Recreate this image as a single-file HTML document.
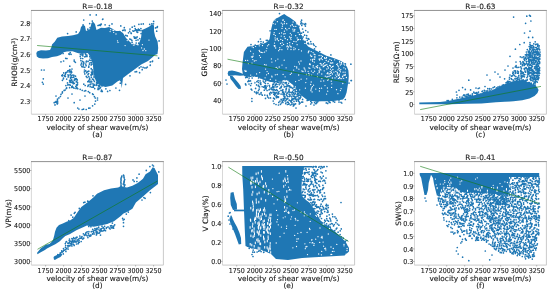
<!DOCTYPE html>
<html><head><meta charset="utf-8"><style>html,body{margin:0;padding:0;background:#fff;overflow:hidden}svg{display:block;filter:blur(0.3px)}text{stroke:#1a1a1a;stroke-width:0.12px}</style></head><body>
<svg width="550" height="294" viewBox="0 0 550 294" font-family='"DejaVu Sans", "Liberation Sans", sans-serif' fill="#1a1a1a">
<rect width="550" height="294" fill="#fff"/>
<path d="M135.2 28.5h0M123.2 30.2h0M124.9 29.9h0M136.2 30.0h0M136.8 29.8h0M138.4 29.0h0M139.3 29.9h0M119.5 31.5h0M122.7 30.5h0M125.1 30.6h0M129.7 31.3h0M132.9 30.8h0M133.4 31.2h0M134.9 30.6h0M136.8 30.3h0M138.0 30.4h0M141.0 30.6h0M119.9 31.9h0M128.5 32.8h0M131.0 32.9h0M136.8 31.8h0M131.3 33.5h0M141.1 33.6h0M125.8 35.4h0M127.3 35.9h0M134.0 36.8h0M135.2 37.3h0M137.1 36.9h0M129.7 39.0h0M134.6 38.2h0M135.5 38.1h0M136.5 37.8h0M139.7 38.5h0M130.8 39.3h0M131.9 40.4h0M136.1 40.3h0M138.0 39.9h0M132.1 42.4h0M136.2 43.0h0M138.7 43.2h0M133.6 44.6h0M135.5 45.2h0M136.2 45.6h0M137.0 45.5h0M88.5 52.5h0M85.5 53.9h0M89.5 53.5h0M90.0 53.5h0M91.4 54.1h0M80.4 54.7h0M81.9 54.8h0M82.9 54.6h0M85.7 54.4h0M86.9 55.0h0M91.2 54.3h0M80.2 56.5h0M82.9 55.9h0M84.8 56.8h0M85.8 56.3h0M87.0 56.4h0M89.8 56.3h0M93.5 56.8h0M80.7 58.5h0M82.7 58.5h0M90.3 57.9h0M92.0 58.5h0M92.9 58.3h0M89.6 60.1h0M94.0 59.7h0M80.9 60.6h0M82.5 61.4h0M86.5 61.1h0M88.1 61.4h0M91.1 60.4h0M81.5 63.2h0M83.7 62.2h0M86.2 61.9h0M90.0 62.8h0M91.5 62.6h0M81.7 63.3h0M83.3 64.6h0M83.8 63.6h0M85.8 64.1h0M89.4 64.1h0M91.9 64.2h0M96.4 64.0h0M81.0 64.9h0M83.3 65.1h0M86.1 65.7h0M88.9 66.1h0M91.2 64.9h0M94.2 66.1h0M81.8 66.6h0M83.2 66.9h0M84.8 67.3h0M88.7 67.2h0M91.2 68.7h0M94.7 68.6h0M84.5 70.0h0M92.2 69.9h0M84.4 71.9h0M85.8 70.9h0M87.6 71.6h0M88.8 71.2h0M91.4 72.0h0M92.9 71.4h0M86.7 72.7h0M88.6 73.5h0M91.8 72.9h0M92.9 72.9h0M94.8 73.3h0M84.8 73.9h0M88.0 74.7h0M91.1 74.5h0M92.2 74.4h0M92.9 74.4h0M86.3 76.4h0M88.8 76.7h0M91.1 75.5h0M94.1 76.2h0M96.9 75.3h0M87.1 77.4h0M91.4 77.3h0M94.1 77.5h0M98.1 77.3h0M89.6 78.4h0M89.8 79.3h0M92.5 79.2h0M93.2 79.6h0M95.8 78.4h0M88.9 80.4h0M91.0 81.1h0M93.7 80.1h0M96.6 80.0h0M98.5 81.2h0M98.8 80.1h0M87.8 81.7h0M89.3 81.8h0M90.5 82.0h0M91.8 81.8h0M94.4 81.4h0M96.6 82.4h0M97.3 82.2h0M99.5 81.7h0M90.4 84.1h0M92.1 83.8h0M93.7 84.1h0M96.4 84.0h0M97.9 83.4h0M100.5 84.1h0M90.0 84.7h0M93.4 85.7h0M94.5 85.1h0M96.2 85.3h0M98.1 85.3h0M99.5 85.7h0M101.9 84.4h0M91.9 87.2h0M93.4 87.2h0M98.6 86.0h0M99.2 86.5h0M102.0 86.0h0M94.7 88.6h0M99.1 88.3h0M100.5 87.4h0M98.6 89.4h0M158.6 58.1h0M152.6 61.1h0M150.3 61.9h0M152.2 61.6h0M150.2 65.3h0M150.3 65.1h0M141.0 66.8h0M147.3 67.0h0M139.3 67.9h0M143.1 67.4h0M144.9 67.9h0M146.5 67.8h0M142.2 69.7h0M136.6 71.7h0M135.1 71.8h0M139.6 72.7h0M130.0 75.8h0M120.6 80.6h0M120.3 83.2h0M125.6 84.4h0M98.1 88.1h0M115.9 88.0h0M98.0 89.4h0M99.9 88.3h0M105.9 88.8h0M101.5 90.2h0M109.9 90.5h0M119.5 90.3h0M101.2 91.3h0M102.3 91.4h0M107.6 91.4h0M70.2 52.7h0M63.1 53.4h0M68.9 53.9h0M69.4 54.3h0M71.1 54.3h0M65.7 58.3h0M67.0 58.5h0M80.8 58.3h0M74.3 61.3h0M75.4 62.3h0" stroke="#1f77b4" stroke-width="1.7" stroke-linecap="round" fill="none"/><path d="M36.3,53.0 37.5,51.2 41.0,50.3 46.0,50.5 50.0,50.0 51.5,47.0 52.0,44.5 54.9,41.4 57.3,37.7 62.0,36.5 68.0,36.0 73.0,35.3 78.0,34.0 80.0,31.0 81.0,27.0 83.0,25.0 85.0,26.0 86.0,31.0 90.0,29.0 91.5,23.0 93.0,21.8 95.0,24.0 96.5,30.0 101.0,27.7 105.0,27.9 109.0,27.0 112.0,28.5 116.0,31.0 120.0,31.0 123.0,33.0 126.0,38.0 130.0,42.0 135.0,46.0 138.0,46.0 141.0,38.0 142.0,30.0 145.4,28.5 149.0,26.7 152.0,24.2 154.0,25.5 154.0,31.0 155.2,36.5 157.6,41.4 158.2,48.0 157.5,54.0 154.8,55.0 153.1,56.8 148.0,61.0 141.2,64.4 134.4,69.5 127.6,74.6 123.0,78.0 121.7,88.2 120.8,79.7 117.4,81.4 112.3,85.5 105.5,87.0 100.0,85.5 96.0,81.0 93.5,73.0 93.0,65.0 91.0,58.0 88.0,53.0 84.5,53.5 82.0,54.0 77.5,53.0 72.5,51.2 67.0,51.5 63.5,52.2 61.0,54.7 57.0,56.2 52.0,57.0 48.0,58.3 43.0,58.6 39.0,58.0 36.8,56.5Z" fill="#1f77b4"/><path d="M127.2 40.6h0M149.0 40.1h0M117.5 40.8h0M118.0 42.3h0M131.8 43.6h0M133.4 45.1h0M142.4 44.7h0M125.1 45.6h0M141.6 47.9h0M144.3 49.0h0M143.0 50.5h0M145.8 50.7h0M110.7 29.7h0M112.9 30.2h0M113.8 30.4h0M110.1 31.6h0M113.7 32.3h0M116.0 34.0h0" stroke="#fff" stroke-width="1.3" stroke-linecap="round" fill="none"/><path d="M92.3 21.1h0M153.6 21.4h0M89.7 23.6h0M83.1 24.9h0M99.2 25.1h0M100.4 24.7h0M101.3 24.1h0M105.1 24.8h0M112.0 23.9h0M138.9 24.3h0M141.2 24.1h0M143.3 23.9h0M149.7 24.3h0M151.8 23.8h0M153.5 23.8h0M98.0 25.5h0M100.5 25.4h0M120.8 25.9h0M134.5 26.2h0M157.4 26.7h0M90.1 27.7h0M124.3 27.7h0M132.2 27.2h0M155.5 27.9h0M157.1 27.4h0M87.8 29.2h0M130.0 29.1h0M135.7 29.6h0M140.9 28.6h0M139.3 30.3h0M156.7 31.2h0M76.2 31.9h0M137.7 32.3h0M67.6 33.6h0M159.1 40.9h0" stroke="#1f77b4" stroke-width="1.7" stroke-linecap="round" fill="none"/><path d="M67.8 70.8h0M68.6 70.5h0M71.3 71.0h0M65.8 72.5h0M66.9 72.2h0M69.2 72.0h0M71.3 71.5h0M71.7 72.2h0M63.7 72.9h0M65.7 73.2h0M71.3 72.8h0M61.8 75.5h0M62.6 74.9h0M64.4 75.7h0M65.4 74.3h0M68.0 74.8h0M68.5 75.7h0M70.2 74.3h0M71.6 75.3h0M72.9 75.0h0M62.3 75.9h0M64.6 76.1h0M65.4 76.4h0M68.2 77.0h0M68.4 76.1h0M73.7 77.2h0M63.5 78.0h0M63.4 78.8h0M66.7 79.1h0M71.7 79.8h0M62.4 80.3h0M69.6 80.4h0M70.4 81.4h0M67.5 82.9h0M69.7 82.0h0M70.6 82.3h0M72.7 82.8h0M73.3 82.6h0M69.1 84.6h0M65.9 85.6h0M67.8 84.9h0M70.3 85.2h0M73.9 75.4h0M70.5 77.2h0M71.5 77.2h0M75.5 76.2h0M70.6 78.6h0M72.1 77.4h0M75.2 78.5h0M76.4 78.6h0M71.8 80.2h0M74.5 79.1h0M75.6 79.7h0M77.3 79.9h0M71.1 80.5h0M72.9 81.6h0M74.3 80.3h0M76.8 81.7h0M71.6 82.4h0M72.6 82.2h0M76.2 81.8h0M77.6 82.8h0M73.4 83.7h0M74.3 83.3h0M77.5 84.6h0M72.3 86.2h0M76.4 84.9h0M77.0 85.5h0M71.8 86.6h0M72.9 87.2h0M75.8 86.5h0M76.9 87.7h0M69.9 69.6h0M69.9 71.2h0M70.4 71.9h0M70.3 75.0h0M83.8 84.2h0M76.9 84.5h0M85.2 85.5h0M88.3 85.2h0M87.9 86.3h0M90.2 86.7h0M55.5 101.8h0M56.4 101.7h0M57.6 101.2h0M54.2 102.7h0M56.5 102.6h0M57.7 102.9h0M55.0 104.9h0M57.3 104.0h0M66.7 87.9h0M66.3 88.4h0M65.2 90.0h0M64.1 90.4h0M62.4 91.9h0M62.3 93.0h0M61.0 94.4h0M60.4 96.5h0M58.9 97.9h0M57.5 99.0h0M57.5 99.6h0M56.2 101.3h0M55.5 102.1h0M69.6 87.7h0M71.8 87.5h0M74.0 88.2h0M76.0 88.4h0M77.7 88.7h0M80.2 89.3h0M82.2 90.3h0M84.4 91.0h0M85.7 90.7h0M88.3 91.6h0M89.7 92.7h0M92.6 93.9h0M93.3 94.5h0M94.4 96.6h0M95.3 98.0h0M95.5 101.1h0M94.8 104.1h0M92.6 105.8h0M90.0 108.0h0M88.8 108.2h0M86.2 109.5h0M83.6 109.1h0M82.2 109.5h0M78.9 109.0h0" stroke="#1f77b4" stroke-width="1.7" stroke-linecap="round" fill="none"/><path d="M41.5 70.0h0M44.1 70.0h0M43.3 78.8h0M42.4 82.3h0M43.3 84.1h0M61.0 61.8h0M63.6 61.0h0M74.2 60.0h0M69.8 66.2h0M72.0 69.0h0M74.2 102.7h0M77.7 108.0h0M90.1 14.9h0M96.3 14.9h0M102.9 19.1h0M83.7 20.0h0M102.6 19.3h0M109.4 25.6h0M97.5 98.0h0M97.5 100.0h0M56.0 96.0h0M68.0 98.0h0M72.0 94.0h0M80.0 100.0h0M85.0 96.0h0" stroke="#1f77b4" stroke-width="1.7" stroke-linecap="round" fill="none"/><line x1="37.1" y1="45.5" x2="157.5" y2="55.8" stroke="#107a10" stroke-width="0.6"/>
<path d="M31.4,114.2V10.45" stroke="#d4d4d4" stroke-width="0.9" fill="none"/>
<path d="M31.4,114.2H163.4V10.45" stroke="#c4c4c4" stroke-width="0.9" fill="none"/>
<path d="M31.0,10.45H163.8" stroke="#858585" stroke-width="0.9" fill="none"/>
<text x="97.4" y="8.9" font-size="7.35" text-anchor="middle">R=-0.18</text>
<text transform="translate(45.6,120.8) scale(0.925,1)" font-size="6.85" text-anchor="middle">1750</text>
<line x1="45.6" y1="114.2" x2="45.6" y2="115.6" stroke="#888" stroke-width="0.6"/>
<text transform="translate(63.6,120.8) scale(0.925,1)" font-size="6.85" text-anchor="middle">2000</text>
<line x1="63.6" y1="114.2" x2="63.6" y2="115.6" stroke="#888" stroke-width="0.6"/>
<text transform="translate(81.6,120.8) scale(0.925,1)" font-size="6.85" text-anchor="middle">2250</text>
<line x1="81.6" y1="114.2" x2="81.6" y2="115.6" stroke="#888" stroke-width="0.6"/>
<text transform="translate(99.6,120.8) scale(0.925,1)" font-size="6.85" text-anchor="middle">2500</text>
<line x1="99.6" y1="114.2" x2="99.6" y2="115.6" stroke="#888" stroke-width="0.6"/>
<text transform="translate(117.6,120.8) scale(0.925,1)" font-size="6.85" text-anchor="middle">2750</text>
<line x1="117.6" y1="114.2" x2="117.6" y2="115.6" stroke="#888" stroke-width="0.6"/>
<text transform="translate(135.6,120.8) scale(0.925,1)" font-size="6.85" text-anchor="middle">3000</text>
<line x1="135.6" y1="114.2" x2="135.6" y2="115.6" stroke="#888" stroke-width="0.6"/>
<text transform="translate(153.6,120.8) scale(0.925,1)" font-size="6.85" text-anchor="middle">3250</text>
<line x1="153.6" y1="114.2" x2="153.6" y2="115.6" stroke="#888" stroke-width="0.6"/>
<text x="97.4" y="129.6" font-size="7.35" text-anchor="middle">velocity of shear wave(m/s)</text>
<text x="97.4" y="137.3" font-size="7.35" text-anchor="middle">(a)</text>
<text transform="translate(30.2,25.6) scale(0.925,1)" font-size="6.85" text-anchor="end">2.8</text>
<line x1="29.8" y1="23.0" x2="31.4" y2="23.0" stroke="#888" stroke-width="0.6"/>
<text transform="translate(30.2,41.2) scale(0.925,1)" font-size="6.85" text-anchor="end">2.7</text>
<line x1="29.8" y1="38.6" x2="31.4" y2="38.6" stroke="#888" stroke-width="0.6"/>
<text transform="translate(30.2,56.9) scale(0.925,1)" font-size="6.85" text-anchor="end">2.6</text>
<line x1="29.8" y1="54.2" x2="31.4" y2="54.2" stroke="#888" stroke-width="0.6"/>
<text transform="translate(30.2,72.5) scale(0.925,1)" font-size="6.85" text-anchor="end">2.5</text>
<line x1="29.8" y1="69.8" x2="31.4" y2="69.8" stroke="#888" stroke-width="0.6"/>
<text transform="translate(30.2,88.1) scale(0.925,1)" font-size="6.85" text-anchor="end">2.4</text>
<line x1="29.8" y1="85.4" x2="31.4" y2="85.4" stroke="#888" stroke-width="0.6"/>
<text transform="translate(30.2,103.7) scale(0.925,1)" font-size="6.85" text-anchor="end">2.3</text>
<line x1="29.8" y1="101.0" x2="31.4" y2="101.0" stroke="#888" stroke-width="0.6"/>
<text transform="translate(17.0,62.3) rotate(-90)" font-size="7.35" text-anchor="middle">RHOB(g/cm<tspan dy="-2.5" font-size="5">3</tspan><tspan dy="2.5">)</tspan></text>
<path d="M246.7 76.7h0M252.1 76.6h0M256.5 76.2h0M245.7 77.6h0M247.2 77.3h0M247.3 77.0h0M249.1 78.1h0M252.2 77.9h0M258.6 77.9h0M260.6 77.7h0M263.9 78.6h0M265.6 79.5h0M285.0 79.2h0M248.7 80.4h0M249.2 81.1h0M250.5 80.9h0M258.1 80.6h0M260.1 80.9h0M263.2 81.0h0M265.6 81.1h0M270.3 81.1h0M274.3 80.4h0M275.8 80.3h0M247.9 81.6h0M254.8 82.7h0M256.9 81.7h0M258.6 82.5h0M264.1 82.3h0M277.6 82.6h0M281.1 82.6h0M285.1 82.6h0M286.4 82.7h0M245.5 83.9h0M251.4 83.5h0M260.0 84.2h0M260.8 82.8h0M265.4 83.3h0M268.0 83.6h0M273.6 84.2h0M275.9 84.1h0M277.7 84.2h0M282.4 83.9h0M245.9 84.9h0M250.6 85.5h0M256.6 84.9h0M258.7 85.1h0M260.9 84.4h0M265.4 85.6h0M269.1 85.3h0M272.9 84.4h0M276.3 84.4h0M279.4 84.7h0M284.1 84.4h0M288.5 85.7h0M258.4 85.9h0M259.5 86.9h0M262.2 86.6h0M263.7 87.2h0M264.6 86.1h0M265.4 87.1h0M267.1 86.0h0M269.7 86.1h0M269.8 86.8h0M272.5 87.2h0M276.1 87.0h0M281.0 86.9h0M281.8 86.1h0M284.7 86.5h0M286.7 86.7h0M290.9 87.2h0M255.6 88.4h0M265.2 88.2h0M266.2 87.7h0M272.9 87.6h0M281.2 87.6h0M286.4 88.7h0M291.9 87.7h0M251.2 89.2h0M251.9 90.0h0M259.2 89.1h0M264.3 90.2h0M266.0 88.9h0M269.0 89.8h0M270.0 89.1h0M271.8 89.5h0M274.6 89.6h0M276.7 89.7h0M292.8 88.8h0M295.2 89.9h0M258.5 90.6h0M267.1 90.5h0M277.3 90.6h0M279.0 91.6h0M281.0 90.4h0M293.5 90.3h0M295.8 91.6h0M297.4 91.7h0M254.6 91.8h0M256.2 92.7h0M256.7 92.0h0M258.0 92.8h0M261.1 92.6h0M270.7 92.3h0M271.6 93.0h0M274.8 92.8h0M276.2 92.7h0M278.0 92.8h0M282.6 92.6h0M283.8 92.0h0M285.8 91.9h0M287.4 93.0h0M288.4 92.0h0M289.9 92.2h0M291.4 92.8h0M292.5 92.4h0M297.4 91.8h0M256.5 93.6h0M259.3 94.3h0M261.0 93.9h0M269.7 93.3h0M269.9 94.7h0M273.8 94.2h0M278.9 93.6h0M283.0 94.4h0M284.2 93.7h0M286.6 93.8h0M293.3 93.6h0M295.5 93.7h0M297.9 93.5h0M298.8 93.4h0M262.3 95.2h0M264.8 95.1h0M267.3 95.3h0M274.7 95.3h0M276.6 95.8h0M283.9 96.1h0M290.0 94.9h0M292.1 94.8h0M293.5 96.2h0M298.8 95.0h0M300.6 96.1h0M267.6 96.9h0M278.3 97.3h0M284.1 96.6h0M284.9 96.6h0M287.6 96.5h0M289.3 96.4h0M295.7 97.3h0M300.8 97.1h0M265.5 98.4h0M268.7 98.0h0M270.5 97.9h0M273.6 98.2h0M274.5 98.9h0M284.7 98.3h0M287.0 99.1h0M292.9 98.5h0M294.6 98.2h0M295.5 98.9h0M282.0 100.1h0M283.5 100.4h0M286.5 99.6h0M289.2 100.2h0M291.8 100.3h0M298.3 99.9h0M273.2 101.0h0M280.0 101.1h0M294.0 101.4h0M296.5 101.2h0M298.5 101.1h0M278.8 102.4h0M281.3 103.0h0M282.9 102.5h0M285.7 103.6h0M288.3 102.3h0M292.0 102.7h0M287.4 104.5h0M288.6 104.1h0M290.4 105.0h0M291.9 104.3h0M294.5 104.4h0M293.3 106.0h0M280.9 80.7h0M275.6 81.4h0M277.6 81.7h0M281.6 80.9h0M274.4 82.6h0M277.1 82.9h0M278.7 82.7h0M279.9 83.7h0M288.5 83.3h0M275.6 84.6h0M282.7 84.0h0M283.7 84.9h0M285.7 84.1h0M286.4 84.0h0M287.4 83.8h0M272.8 86.2h0M275.2 85.5h0M277.4 86.6h0M285.1 86.7h0M286.7 86.1h0M287.5 85.9h0M289.7 85.9h0M271.4 88.0h0M273.7 87.5h0M274.0 86.9h0M280.9 87.2h0M284.3 86.9h0M289.3 86.8h0M290.6 87.4h0M272.1 89.6h0M273.4 89.4h0M279.8 88.3h0M282.9 89.5h0M286.1 88.9h0M289.1 89.2h0M292.7 89.1h0M294.1 89.6h0M295.1 89.7h0M273.2 90.1h0M275.3 90.3h0M277.3 90.7h0M282.6 90.7h0M286.0 90.0h0M289.1 90.4h0M273.1 92.1h0M274.2 92.3h0M282.9 92.0h0M288.6 91.7h0M292.4 91.7h0M297.6 91.8h0M275.4 93.8h0M277.5 94.0h0M278.5 93.9h0M281.1 94.1h0M283.7 93.0h0M289.2 94.2h0M293.9 92.8h0M298.3 93.6h0M283.9 94.3h0M284.7 94.5h0M286.7 95.4h0M290.0 95.3h0M294.4 94.6h0M297.1 94.5h0M297.9 94.8h0M299.4 95.1h0M276.1 96.7h0M277.6 96.9h0M278.5 96.9h0M289.9 96.2h0M291.7 96.8h0M295.0 96.5h0M296.9 96.4h0M298.1 96.0h0M276.6 97.7h0M283.2 98.5h0M285.4 98.0h0M287.1 98.7h0M287.8 98.6h0M293.4 98.6h0M299.0 97.5h0M300.1 98.4h0M281.1 99.3h0M283.9 99.4h0M286.2 100.0h0M291.7 99.1h0M292.6 99.7h0M294.0 98.8h0M296.1 99.7h0M297.1 99.0h0M298.8 99.2h0M302.6 99.4h0M282.3 101.6h0M285.2 101.0h0M290.5 100.9h0M298.2 100.3h0M285.8 103.2h0M287.3 102.1h0M291.1 101.9h0M299.3 102.0h0M289.1 103.8h0M293.6 104.1h0M295.6 103.8h0M299.3 103.9h0M293.8 105.6h0M338.5 98.7h0M308.1 100.2h0M317.7 99.7h0M323.3 99.8h0M325.3 99.5h0M326.6 100.2h0M329.1 99.8h0M331.3 98.8h0M333.5 99.8h0M335.0 99.6h0M336.6 98.9h0M339.0 100.1h0M307.2 100.4h0M310.8 101.4h0M315.6 100.6h0M317.9 101.6h0M328.7 100.9h0M333.2 101.4h0M300.1 103.1h0M301.7 102.1h0M311.8 102.7h0M314.6 102.7h0M316.8 102.8h0M326.3 102.9h0M330.1 102.6h0M341.0 102.3h0M341.8 103.0h0M310.7 104.0h0M315.9 103.7h0M327.7 103.4h0M266.3 40.3h0M267.5 40.4h0M263.3 42.1h0M269.4 41.9h0M270.5 42.7h0M260.9 43.5h0M265.1 44.3h0M266.2 44.2h0M261.9 45.7h0M268.7 45.5h0M263.6 46.6h0M264.3 46.7h0M301.0 21.8h0M301.6 22.8h0M305.2 23.5h0M300.8 23.8h0M303.0 23.8h0M304.7 24.5h0M305.7 23.9h0M301.8 25.4h0M305.4 26.1h0M302.6 29.0h0M305.7 30.5h0M303.3 32.2h0M307.9 32.0h0M304.6 35.2h0M306.7 35.7h0M303.1 36.9h0M306.4 38.1h0M308.1 38.5h0M308.9 39.2h0M305.0 41.3h0M307.3 40.3h0M310.7 41.6h0M308.2 43.2h0M307.7 43.4h0M308.9 44.0h0M311.1 43.9h0M313.3 43.9h0M314.1 45.3h0M315.8 46.6h0" stroke="#1f77b4" stroke-width="1.7" stroke-linecap="round" fill="none"/><path d="M242.5,63.0 243.9,52.0 247.5,46.8 252.0,46.0 256.7,45.0 260.0,44.5 264.0,43.5 267.0,42.0 269.5,39.2 270.5,33.0 271.4,28.2 273.2,21.0 276.0,18.5 278.7,17.2 281.5,15.5 284.2,14.0 287.0,16.0 289.7,17.5 292.5,19.5 295.2,21.5 298.9,26.5 300.5,32.0 302.6,37.4 305.0,42.5 308.1,46.5 312.0,48.5 315.4,50.2 320.0,52.5 326.4,55.7 332.0,57.5 337.4,59.4 341.0,61.0 344.8,63.5 347.0,67.0 348.4,70.4 348.8,76.0 348.4,81.4 347.5,87.0 346.6,92.4 345.0,97.0 343.0,99.5 337.0,100.5 330.0,101.2 322.0,101.2 315.4,101.4 308.0,100.5 302.0,96.0 298.0,91.9 292.8,84.8 285.7,79.5 280.4,81.2 274.0,82.5 268.0,81.2 262.7,79.5 257.4,76.8 250.0,77.0 245.0,76.5 243.0,75.0 242.0,69.0Z" fill="#1f77b4"/><path d="M275.0 20.1h0M282.7 20.2h0M283.3 20.0h0M273.1 20.9h0M277.4 21.7h0M284.5 21.7h0M293.1 22.0h0M273.2 23.6h0M281.3 23.1h0M284.3 23.7h0M286.7 23.7h0M275.3 24.1h0M282.6 24.2h0M292.2 24.4h0M292.3 25.1h0M296.4 23.8h0M282.4 26.2h0M290.5 25.8h0M293.8 26.4h0M295.8 26.4h0M274.9 29.4h0M276.4 29.3h0M282.0 28.4h0M285.6 28.5h0M289.1 28.4h0M292.9 29.2h0M294.8 29.5h0M284.4 31.2h0M286.9 29.8h0M293.2 31.0h0M294.6 30.9h0M274.2 32.7h0M298.1 32.6h0M279.4 33.3h0M281.6 32.9h0M283.7 33.9h0M285.1 33.7h0M290.3 33.3h0M273.9 34.4h0M275.4 35.6h0M291.4 34.9h0M295.7 35.7h0M299.4 34.5h0M301.3 34.4h0M281.2 36.1h0M284.3 36.7h0M289.5 36.9h0M275.1 37.9h0M277.2 38.4h0M285.2 38.5h0M290.5 38.1h0M291.1 37.5h0M297.2 37.9h0M275.3 40.0h0M277.2 39.7h0M280.8 39.4h0M287.5 39.7h0M291.0 39.6h0M297.6 40.0h0M298.5 39.5h0M300.3 39.6h0M303.2 39.7h0M278.6 40.7h0M282.6 40.4h0M293.9 41.4h0M296.1 41.7h0M274.5 43.1h0M282.2 42.8h0M289.7 42.7h0M280.5 43.5h0M283.6 44.4h0M287.4 43.6h0M292.5 43.6h0M297.1 44.7h0M304.9 43.4h0M274.2 45.7h0M274.9 45.7h0M282.0 45.6h0M287.3 46.0h0M289.8 45.2h0M274.8 46.6h0M279.8 47.6h0M287.0 46.7h0M288.4 47.0h0M290.2 46.6h0M291.3 46.9h0M275.7 48.0h0M287.7 49.0h0M293.9 47.8h0M295.4 48.8h0M278.7 50.7h0M279.8 49.4h0M281.9 49.7h0M291.0 49.5h0M293.9 49.7h0M298.8 49.6h0M301.5 50.9h0M268.7 44.7h0M259.3 45.8h0M262.5 45.5h0M267.5 45.8h0M252.1 46.8h0M253.4 47.6h0M255.6 46.3h0M266.8 48.3h0M259.2 50.5h0M250.6 51.2h0M259.7 51.5h0M264.6 52.1h0M266.2 50.8h0M261.0 52.4h0M261.4 52.4h0M262.8 52.6h0M253.3 53.8h0M253.0 56.2h0M259.5 55.6h0M251.4 56.8h0M252.4 57.2h0M260.5 57.3h0M308.5 51.6h0M309.0 51.0h0M311.2 51.6h0M308.3 52.7h0M313.1 52.6h0M310.5 55.2h0M314.1 54.2h0M315.0 54.7h0M311.1 56.6h0M311.8 56.2h0M314.9 56.7h0M319.1 55.5h0M321.1 55.6h0M322.5 56.5h0M314.9 57.8h0M321.5 58.0h0M324.6 57.6h0M326.5 57.5h0M313.1 59.2h0M314.6 59.3h0M319.2 58.9h0M320.8 58.8h0M324.7 58.3h0M326.0 58.6h0M329.9 59.3h0M310.7 59.8h0M312.4 60.0h0M319.6 60.1h0M326.2 60.5h0M328.7 61.1h0M331.4 60.3h0M334.7 59.8h0M312.7 61.3h0M314.3 62.1h0M324.8 62.6h0M328.1 61.7h0M339.6 61.7h0M341.5 62.5h0M309.8 63.6h0M320.2 63.4h0M321.1 64.0h0M323.5 63.6h0M330.4 62.9h0M332.2 62.8h0M332.8 62.9h0M337.6 63.8h0M340.0 62.8h0M341.6 64.0h0M343.9 64.0h0M309.5 64.3h0M310.3 64.7h0M313.2 65.7h0M317.7 65.7h0M321.3 65.2h0M322.9 65.0h0M324.8 65.5h0M325.6 65.2h0M326.8 64.7h0M329.7 65.4h0M336.7 64.4h0M340.3 65.0h0M344.7 65.0h0M313.1 67.1h0M316.2 66.5h0M316.6 66.9h0M323.8 66.4h0M327.7 66.5h0M330.5 66.0h0M332.5 66.7h0M333.2 66.2h0M338.5 66.8h0M309.9 68.3h0M314.8 68.1h0M317.5 67.4h0M319.7 67.9h0M328.5 68.0h0M331.4 67.3h0M339.1 68.5h0M343.9 67.8h0M320.0 69.2h0M320.9 69.9h0M326.9 69.0h0M330.5 69.2h0M332.9 69.5h0M338.0 69.8h0M340.8 69.6h0M345.5 68.9h0M311.4 71.1h0M314.6 71.2h0M319.1 70.6h0M324.2 70.8h0M330.2 71.6h0M331.6 70.8h0M339.8 70.7h0M313.1 72.5h0M319.2 72.5h0M327.8 72.6h0M331.4 72.7h0M337.3 72.5h0M340.4 71.8h0M345.1 72.2h0M317.7 73.8h0M321.8 74.0h0M327.1 73.7h0M329.1 74.0h0M330.3 73.3h0M339.2 73.9h0M345.3 74.3h0M325.3 76.2h0M329.3 76.1h0M330.7 75.6h0M335.8 75.1h0M338.3 75.5h0M339.2 75.0h0M343.8 75.1h0M345.1 75.3h0M326.9 77.0h0M336.7 76.7h0M339.6 77.5h0M342.5 76.8h0M346.4 77.5h0M332.4 78.0h0M335.0 77.9h0M338.4 78.4h0M340.1 78.5h0M343.7 78.3h0M252.8 59.6h0M271.4 58.9h0M277.9 59.1h0M284.2 60.2h0M319.3 59.5h0M322.3 59.6h0M245.6 60.4h0M247.7 60.3h0M254.3 61.0h0M256.0 60.6h0M275.6 60.8h0M301.0 61.0h0M252.0 63.1h0M271.9 62.1h0M298.8 62.0h0M331.1 63.2h0M248.4 63.6h0M264.5 64.6h0M299.5 63.9h0M309.9 64.0h0M266.1 65.0h0M282.0 65.1h0M337.8 65.7h0M276.2 67.5h0M279.2 67.0h0M294.8 66.3h0M296.7 66.8h0M323.1 66.8h0M265.6 69.1h0M277.6 68.3h0M286.1 67.8h0M296.8 68.0h0M298.9 69.2h0M304.1 68.0h0M304.9 69.2h0M308.9 67.9h0M317.7 67.8h0M339.0 68.8h0M245.0 70.5h0M293.7 70.1h0M245.3 71.4h0M246.3 71.2h0M267.1 71.6h0M301.9 70.9h0M303.0 71.5h0M305.3 71.0h0M308.1 71.3h0M319.3 71.6h0M333.9 72.1h0M335.9 71.4h0M343.1 72.2h0M259.7 72.6h0M268.4 73.5h0M291.5 73.2h0M308.8 73.4h0M327.7 73.7h0M250.7 75.1h0M256.6 73.9h0M266.6 74.8h0M275.3 74.8h0M277.2 74.5h0M283.1 74.4h0M290.3 74.4h0M298.7 75.0h0M306.4 74.5h0M309.2 75.2h0M311.6 75.1h0M332.4 74.0h0M337.4 74.0h0M344.2 75.1h0M271.8 76.1h0M317.4 76.6h0M328.0 76.3h0M342.7 76.2h0M252.1 76.9h0M254.3 77.2h0M265.1 77.8h0M272.0 76.9h0M285.1 76.8h0M339.5 77.1h0M255.2 79.5h0M270.3 79.3h0M301.1 79.2h0M306.7 78.8h0M321.9 78.6h0M328.3 79.3h0M341.7 78.6h0M275.8 80.2h0M284.4 80.5h0M287.9 81.1h0M299.0 80.3h0M320.9 81.2h0M323.7 80.9h0M327.8 80.3h0M331.3 81.2h0M253.9 82.3h0M295.6 81.6h0M305.8 82.6h0M311.2 82.0h0M247.6 84.2h0M277.5 83.7h0M278.9 83.8h0M283.2 83.7h0M287.4 83.3h0M290.3 83.8h0M331.8 83.8h0M342.8 83.5h0M259.3 84.6h0M262.6 85.5h0M268.2 84.7h0M284.6 84.9h0M285.3 84.3h0M310.7 84.5h0M313.6 85.2h0M325.0 85.6h0M270.9 86.4h0M282.6 85.8h0M295.4 86.9h0M312.4 86.7h0M305.4 88.2h0M311.6 87.9h0M319.6 88.4h0M321.6 88.2h0M327.4 88.0h0M331.6 87.4h0M341.1 88.7h0M292.8 89.7h0M299.7 89.8h0M311.1 89.2h0M315.8 89.1h0M336.5 89.7h0M310.9 90.7h0M319.4 91.0h0M327.7 91.2h0M340.4 90.6h0M312.1 91.9h0M326.6 94.1h0M337.9 93.7h0" stroke="#fff" stroke-width="1.3" stroke-linecap="round" fill="none"/><path d="M279.5 13.6h0M298.9 26.2h0M270.1 30.8h0M301.5 33.2h0M258.4 41.7h0M305.2 42.2h0M251.0 44.6h0M255.2 45.2h0M314.5 48.9h0M319.8 51.5h0M330.9 54.9h0M345.4 63.9h0M350.9 64.2h0M285.2 79.7h0M351.0 80.5h0M351.4 80.6h0M280.0 81.8h0M283.1 82.3h0M349.0 83.1h0M294.0 87.2h0M295.2 91.7h0M300.9 95.2h0M345.3 99.5h0M302.7 102.1h0M316.6 102.0h0M329.3 102.2h0M334.7 102.1h0M339.0 102.1h0" stroke="#1f77b4" stroke-width="1.7" stroke-linecap="round" fill="none"/><path d="M228.5,71.0 232.0,70.6 235.5,71.2 239.7,72.4 243.2,74.0 243.5,75.5 240.0,75.8 235.0,75.3 231.0,75.8 228.5,76.0 227.6,73.5Z" fill="#1f77b4"/><path d="M229.8,76.0 232.5,76.0 235.5,79.5 238.5,83.0 240.6,86.0 241.0,88.8 238.6,89.0 236.0,86.3 233.0,82.0 230.5,79.0Z" fill="#1f77b4"/><path d="M251.9 98.5h0M251.9 101.3h0M274.0 103.5h0M276.0 104.5h0M278.5 105.0h0M280.5 104.3h0M301.6 20.2h0M296.0 108.0h0M306.0 106.0h0M314.0 105.0h0M249.0 84.0h0M260.4 39.0h0M261.0 41.5h0M262.0 44.0h0M226.0 80.0h0M227.0 84.0h0" stroke="#1f77b4" stroke-width="1.7" stroke-linecap="round" fill="none"/><line x1="227.5" y1="59.2" x2="346" y2="82.4" stroke="#107a10" stroke-width="0.6"/>
<path d="M222.5,114.2V10.45" stroke="#d4d4d4" stroke-width="0.9" fill="none"/>
<path d="M222.5,114.2H354.6V10.45" stroke="#c4c4c4" stroke-width="0.9" fill="none"/>
<path d="M222.1,10.45H355.0" stroke="#858585" stroke-width="0.9" fill="none"/>
<text x="288.6" y="8.9" font-size="7.35" text-anchor="middle">R=-0.32</text>
<text transform="translate(236.7,120.8) scale(0.925,1)" font-size="6.85" text-anchor="middle">1750</text>
<line x1="236.7" y1="114.2" x2="236.7" y2="115.6" stroke="#888" stroke-width="0.6"/>
<text transform="translate(254.7,120.8) scale(0.925,1)" font-size="6.85" text-anchor="middle">2000</text>
<line x1="254.7" y1="114.2" x2="254.7" y2="115.6" stroke="#888" stroke-width="0.6"/>
<text transform="translate(272.7,120.8) scale(0.925,1)" font-size="6.85" text-anchor="middle">2250</text>
<line x1="272.7" y1="114.2" x2="272.7" y2="115.6" stroke="#888" stroke-width="0.6"/>
<text transform="translate(290.7,120.8) scale(0.925,1)" font-size="6.85" text-anchor="middle">2500</text>
<line x1="290.7" y1="114.2" x2="290.7" y2="115.6" stroke="#888" stroke-width="0.6"/>
<text transform="translate(308.7,120.8) scale(0.925,1)" font-size="6.85" text-anchor="middle">2750</text>
<line x1="308.7" y1="114.2" x2="308.7" y2="115.6" stroke="#888" stroke-width="0.6"/>
<text transform="translate(326.7,120.8) scale(0.925,1)" font-size="6.85" text-anchor="middle">3000</text>
<line x1="326.7" y1="114.2" x2="326.7" y2="115.6" stroke="#888" stroke-width="0.6"/>
<text transform="translate(344.7,120.8) scale(0.925,1)" font-size="6.85" text-anchor="middle">3250</text>
<line x1="344.7" y1="114.2" x2="344.7" y2="115.6" stroke="#888" stroke-width="0.6"/>
<text x="288.6" y="129.6" font-size="7.35" text-anchor="middle">velocity of shear wave(m/s)</text>
<text x="288.6" y="137.3" font-size="7.35" text-anchor="middle">(b)</text>
<text transform="translate(221.3,16.0) scale(0.925,1)" font-size="6.85" text-anchor="end">140</text>
<line x1="220.9" y1="13.3" x2="222.5" y2="13.3" stroke="#888" stroke-width="0.6"/>
<text transform="translate(221.3,33.5) scale(0.925,1)" font-size="6.85" text-anchor="end">120</text>
<line x1="220.9" y1="30.8" x2="222.5" y2="30.8" stroke="#888" stroke-width="0.6"/>
<text transform="translate(221.3,50.9) scale(0.925,1)" font-size="6.85" text-anchor="end">100</text>
<line x1="220.9" y1="48.2" x2="222.5" y2="48.2" stroke="#888" stroke-width="0.6"/>
<text transform="translate(221.3,68.4) scale(0.925,1)" font-size="6.85" text-anchor="end">80</text>
<line x1="220.9" y1="65.7" x2="222.5" y2="65.7" stroke="#888" stroke-width="0.6"/>
<text transform="translate(221.3,85.9) scale(0.925,1)" font-size="6.85" text-anchor="end">60</text>
<line x1="220.9" y1="83.2" x2="222.5" y2="83.2" stroke="#888" stroke-width="0.6"/>
<text transform="translate(221.3,103.2) scale(0.925,1)" font-size="6.85" text-anchor="end">40</text>
<line x1="220.9" y1="100.6" x2="222.5" y2="100.6" stroke="#888" stroke-width="0.6"/>
<text transform="translate(206.9,62.3) rotate(-90)" font-size="7.35" text-anchor="middle">GR(API)</text>
<path d="M533.8 43.8h0M536.1 44.2h0M537.7 44.2h0M530.0 44.7h0M530.7 45.4h0M532.8 45.7h0M535.6 44.6h0M537.7 45.6h0M537.9 44.4h0M529.2 46.5h0M531.7 45.9h0M533.7 46.8h0M537.7 46.3h0M539.2 45.9h0M529.8 48.3h0M531.6 47.8h0M533.3 47.7h0M535.3 47.5h0M538.9 47.9h0M527.3 49.5h0M529.7 49.8h0M530.3 49.6h0M536.0 49.5h0M536.5 49.4h0M528.3 51.2h0M528.9 51.6h0M533.6 50.3h0M535.5 51.2h0M537.3 51.0h0M526.4 52.0h0M528.5 52.3h0M528.8 52.4h0M530.3 52.7h0M531.9 53.1h0M534.6 52.5h0M535.1 52.4h0M537.4 52.9h0M538.1 52.4h0M540.0 52.1h0M526.7 54.1h0M528.5 54.4h0M533.1 53.4h0M535.1 54.3h0M536.6 53.6h0M538.8 53.6h0M539.8 54.2h0M525.4 54.8h0M526.4 55.1h0M528.1 54.9h0M529.0 55.9h0M530.7 55.1h0M532.0 55.0h0M534.5 55.1h0M535.6 54.9h0M537.4 55.1h0M538.6 54.9h0M540.1 54.9h0M525.2 57.2h0M527.0 56.3h0M529.9 56.5h0M530.4 57.2h0M533.9 57.3h0M535.5 57.1h0M536.5 57.0h0M539.9 56.6h0M524.2 59.1h0M525.7 58.2h0M527.2 58.0h0M528.2 58.2h0M533.0 59.2h0M535.7 58.4h0M536.7 57.9h0M538.0 57.8h0M539.9 58.9h0M524.7 60.4h0M526.3 59.5h0M529.0 60.1h0M531.5 60.5h0M532.0 60.4h0M534.6 59.7h0M538.1 59.7h0M523.0 61.7h0M526.4 61.6h0M528.2 61.3h0M529.9 61.0h0M531.4 61.1h0M533.1 61.0h0M533.7 61.1h0M535.6 60.9h0M536.3 60.9h0M538.1 61.3h0M520.9 62.9h0M523.7 63.2h0M524.7 63.7h0M526.6 63.3h0M529.1 62.9h0M531.3 63.3h0M532.8 62.9h0M533.7 62.8h0M537.2 63.5h0M538.6 63.6h0M539.8 62.8h0M520.7 64.0h0M522.5 64.4h0M523.0 64.0h0M525.2 64.4h0M527.2 64.3h0M527.6 64.5h0M528.9 64.3h0M530.8 64.7h0M532.9 64.5h0M536.2 64.5h0M536.8 64.5h0M537.9 64.3h0M522.4 65.7h0M524.2 65.4h0M527.7 65.6h0M529.9 65.5h0M531.6 65.6h0M532.5 66.7h0M535.0 66.5h0M537.7 66.7h0M538.4 65.6h0M517.1 67.5h0M518.8 67.3h0M520.7 66.8h0M521.4 68.2h0M525.3 68.1h0M526.2 67.7h0M528.9 67.6h0M534.7 67.1h0M535.9 67.9h0M537.0 67.9h0M539.6 67.7h0M521.4 68.8h0M524.2 68.7h0M524.6 69.5h0M527.0 68.8h0M528.6 68.7h0M529.7 69.1h0M531.2 68.7h0M531.8 69.2h0M534.4 68.5h0M537.0 68.9h0M538.0 69.6h0M514.3 70.8h0M515.5 70.8h0M520.8 70.5h0M525.1 71.2h0M527.2 69.9h0M528.1 71.0h0M529.9 70.3h0M531.4 70.7h0M532.7 69.8h0M533.4 70.9h0M535.8 69.9h0M537.3 71.1h0M538.7 70.3h0M539.4 69.8h0M513.5 72.7h0M515.7 72.2h0M518.2 72.4h0M518.5 71.8h0M520.8 71.6h0M521.9 71.7h0M523.4 72.7h0M525.6 72.2h0M527.8 72.3h0M528.9 72.5h0M533.5 72.1h0M536.0 72.3h0M537.5 71.8h0M537.9 71.8h0M512.8 73.4h0M515.4 73.3h0M517.5 73.2h0M518.3 73.2h0M520.9 73.4h0M522.2 73.2h0M523.0 73.7h0M527.9 73.3h0M530.7 72.9h0M532.8 73.8h0M533.3 74.2h0M534.8 73.4h0M537.5 73.5h0M539.1 72.9h0M513.5 74.6h0M514.5 75.7h0M518.8 75.3h0M521.0 75.0h0M522.1 75.5h0M524.0 74.9h0M524.8 74.6h0M527.5 74.8h0M532.2 74.7h0M534.1 75.7h0M535.1 75.6h0M537.3 75.3h0M511.5 76.2h0M512.3 75.8h0M515.9 76.6h0M518.2 77.0h0M518.9 77.1h0M521.1 76.7h0M522.0 76.6h0M523.1 76.3h0M524.4 76.8h0M527.6 76.5h0M529.9 75.9h0M530.9 76.7h0M532.6 77.2h0M534.7 77.2h0M537.9 76.7h0M511.2 78.6h0M515.0 78.7h0M516.6 78.6h0M517.3 78.2h0M521.1 78.4h0M521.8 77.4h0M526.9 77.6h0M530.3 78.6h0M533.2 78.0h0M534.5 78.5h0M535.4 78.4h0M539.0 77.8h0M509.4 79.1h0M511.8 79.3h0M513.3 80.1h0M515.3 79.0h0M517.9 79.4h0M519.1 78.9h0M519.8 80.2h0M522.0 80.0h0M523.3 79.9h0M527.0 80.2h0M527.3 79.5h0M530.2 79.2h0M535.3 80.1h0M537.5 78.9h0M507.7 81.5h0M507.9 81.2h0M513.7 80.4h0M515.2 81.7h0M515.5 81.3h0M516.9 80.5h0M518.8 81.5h0M521.1 81.4h0M522.2 81.3h0M524.1 80.9h0M525.5 80.3h0M525.8 81.4h0M530.9 80.5h0M532.9 80.9h0M535.3 81.7h0M508.0 82.2h0M511.8 83.1h0M512.9 82.8h0M514.6 82.7h0M515.6 82.9h0M517.7 82.4h0M521.0 82.6h0M521.8 83.2h0M525.3 83.1h0M525.9 82.9h0M528.7 82.5h0M529.4 82.6h0M531.2 83.0h0M537.3 82.0h0M510.7 84.5h0M510.8 83.5h0M514.9 83.9h0M515.3 83.5h0M516.8 83.7h0M518.5 83.5h0M520.4 84.5h0M523.9 84.0h0M524.5 83.7h0M526.6 84.0h0M529.8 83.5h0M531.4 84.1h0M533.5 84.5h0M510.0 86.0h0M512.2 85.1h0M512.3 85.8h0M518.6 84.9h0M520.9 85.7h0M521.4 85.0h0M526.5 85.3h0M529.4 84.8h0M530.7 84.8h0M534.1 85.1h0M535.2 85.1h0M509.9 87.6h0M510.8 87.1h0M513.2 86.4h0M514.8 87.1h0M517.2 86.4h0M518.6 87.1h0M520.6 87.2h0M522.1 86.6h0M526.7 86.7h0M532.5 86.7h0M533.9 86.3h0M535.0 86.4h0M530.6 47.2h0M536.3 47.5h0M531.4 48.0h0M532.9 47.9h0M537.1 48.4h0M538.9 48.5h0M532.0 50.2h0M533.0 49.6h0M534.3 49.3h0M537.9 49.6h0M539.7 49.8h0M529.7 51.5h0M531.8 51.4h0M533.7 50.9h0M534.4 52.0h0M536.1 51.7h0M536.8 51.9h0M538.4 52.0h0M529.7 53.7h0M533.3 52.5h0M534.2 52.4h0M536.3 52.6h0M538.0 53.6h0M538.4 53.6h0M530.3 54.2h0M531.2 55.0h0M532.7 55.0h0M534.4 54.5h0M537.3 54.5h0M539.0 54.3h0M529.1 56.4h0M529.4 55.3h0M530.9 56.1h0M532.4 56.6h0M534.8 56.6h0M528.9 57.9h0M530.7 56.9h0M532.2 57.5h0M532.8 57.7h0M535.1 57.8h0M537.2 58.2h0M539.1 57.0h0M528.7 59.6h0M529.5 59.4h0M531.0 59.0h0M534.4 58.5h0M536.6 58.5h0M536.8 59.0h0M539.4 58.8h0M530.7 60.3h0M530.8 59.8h0M533.1 60.1h0M534.0 60.7h0M535.8 61.2h0M539.0 60.1h0M528.4 61.4h0M529.3 62.4h0M531.5 62.1h0M535.2 62.7h0M536.0 61.9h0M537.6 62.7h0M539.5 61.6h0M528.3 63.9h0M534.4 64.1h0M539.5 63.6h0M529.7 65.3h0M530.9 64.9h0M536.2 65.7h0M537.9 65.3h0M528.8 67.0h0M532.2 66.6h0M536.6 66.6h0M537.6 66.5h0M538.6 66.2h0M528.5 68.7h0M529.8 67.9h0M531.2 67.7h0M535.3 68.2h0M538.1 68.7h0M539.5 68.3h0M528.9 69.5h0M530.0 70.2h0M532.0 69.3h0M537.1 69.7h0M527.5 71.3h0M528.5 71.6h0M529.7 70.7h0M532.2 70.6h0M532.6 71.5h0M534.0 71.3h0M538.2 70.8h0M539.6 70.4h0M528.7 73.2h0M529.7 72.5h0M531.0 72.6h0M533.4 72.3h0M534.6 72.3h0M537.0 72.6h0M539.1 72.0h0M528.5 74.6h0M529.5 73.6h0M532.0 73.3h0M533.5 73.8h0M534.6 73.3h0M536.6 73.3h0M538.1 73.7h0M539.6 73.3h0M529.9 76.2h0M531.6 75.0h0M533.2 74.9h0M534.1 75.9h0M536.2 75.5h0M537.9 75.8h0M539.1 75.4h0M530.6 77.6h0M531.0 77.6h0M534.4 77.3h0M536.6 77.3h0M536.9 76.7h0M538.3 77.2h0M531.9 77.9h0M532.8 78.5h0M535.1 78.6h0M536.9 79.2h0M538.3 78.5h0M531.4 80.0h0M533.2 79.6h0M534.4 79.4h0M535.9 79.8h0M538.1 79.7h0M534.2 82.0h0M536.1 81.4h0M537.3 82.1h0M533.6 83.7h0M534.9 82.9h0M535.3 83.0h0M533.6 84.0h0M509.1 81.7h0M510.0 81.7h0M513.4 80.8h0M515.2 82.0h0M516.1 81.0h0M518.0 82.0h0M518.8 81.7h0M506.1 82.7h0M506.7 82.4h0M508.2 82.5h0M513.7 82.8h0M515.2 83.0h0M515.4 82.6h0M519.5 82.4h0M503.4 84.9h0M508.1 83.9h0M510.2 84.1h0M511.4 85.0h0M513.7 84.5h0M513.9 84.3h0M515.5 83.9h0M517.1 84.4h0M499.9 86.4h0M502.3 85.4h0M503.6 85.5h0M504.9 86.6h0M507.6 86.4h0M509.1 86.5h0M510.6 86.0h0M513.5 85.4h0M513.9 85.6h0M515.9 85.5h0M493.1 87.6h0M494.6 86.9h0M496.8 87.8h0M498.1 86.8h0M500.0 87.3h0M500.9 88.0h0M504.9 87.2h0M507.5 88.0h0M508.1 87.3h0M513.7 87.9h0M487.8 88.7h0M489.6 88.9h0M489.8 88.5h0M491.6 89.0h0M495.7 89.4h0M495.9 89.4h0M499.2 89.5h0M503.2 89.5h0M505.1 89.1h0M508.6 88.8h0M482.5 91.1h0M484.3 90.3h0M486.1 90.9h0M487.8 90.9h0M490.0 90.7h0M494.2 90.1h0M494.3 91.2h0M496.4 90.7h0M497.5 90.5h0M473.8 92.2h0M476.6 92.6h0M478.5 92.1h0M482.0 91.5h0M483.4 92.6h0M484.7 92.2h0M486.9 92.3h0M491.1 92.0h0M493.9 91.5h0M472.4 93.8h0M474.4 93.0h0M475.5 93.2h0M476.9 92.8h0M477.9 94.0h0M480.7 94.1h0M482.0 94.2h0M483.0 93.8h0M484.1 93.8h0M485.8 92.8h0M488.0 93.0h0M465.0 95.0h0M466.9 94.7h0M467.6 94.5h0M469.0 95.4h0M470.4 95.4h0M472.2 95.2h0M477.0 94.4h0M479.0 94.3h0M464.7 95.8h0M466.0 96.5h0M468.6 95.8h0M470.1 96.7h0M466.6 97.5h0M463.9 94.9h0M467.1 94.6h0M468.3 94.1h0M463.4 95.5h0M467.0 96.3h0M456.9 97.8h0M459.8 97.1h0M462.1 97.2h0M467.6 97.3h0M452.3 99.3h0M463.1 98.4h0M447.1 100.5h0M448.3 100.6h0" stroke="#1f77b4" stroke-width="1.7" stroke-linecap="round" fill="none"/><path d="M419.3,102.4 430.0,102.3 440.0,101.9 448.0,100.9 455.0,99.6 462.0,97.9 470.0,96.2 478.0,94.2 486.0,92.3 494.0,89.5 500.0,86.5 506.0,83.5 512.0,81.5 518.0,80.5 524.0,80.5 530.0,83.0 534.0,85.0 537.0,87.0 538.6,90.0 537.5,93.0 534.5,96.0 529.5,98.5 522.3,100.3 513.5,101.3 504.8,101.8 496.0,102.3 481.5,103.4 467.0,103.7 450.0,104.2 435.0,104.3 419.3,104.3Z" fill="#1f77b4"/><path d="M513.6 17.1h0M526.8 16.2h0M529.5 15.3h0M530.4 16.2h0M525.6 23.3h0M530.9 21.0h0M524.5 33.0h0M530.0 31.2h0M528.6 37.4h0M532.7 37.4h0M524.2 42.7h0M530.0 42.7h0M535.2 41.8h0M519.8 44.5h0M515.4 49.2h0M510.0 56.3h0M520.3 56.8h0M468.8 80.2h0M462.6 87.6h0M465.3 89.4h0M470.6 89.9h0M456.4 92.0h0M459.0 90.3h0M457.0 95.0h0M476.0 88.0h0M487.0 75.0h0M495.0 72.0h0M500.0 77.0h0M505.0 70.0h0M490.0 80.0h0M510.0 75.0h0M513.0 68.0h0M516.0 62.0h0M508.0 66.0h0M498.0 74.0h0M523.6 56.9h0M522.0 57.4h0M524.3 58.9h0M520.2 61.5h0M523.1 62.4h0M516.1 65.5h0M515.3 66.9h0M516.5 67.1h0M512.9 72.0h0M517.6 71.1h0M509.5 77.3h0M504.6 78.8h0M485.0 86.5h0M478.2 88.5h0M479.4 88.0h0" stroke="#1f77b4" stroke-width="1.7" stroke-linecap="round" fill="none"/><line x1="420.2" y1="109.6" x2="541" y2="86.4" stroke="#107a10" stroke-width="0.6"/>
<path d="M414.5,114.2V10.45" stroke="#d4d4d4" stroke-width="0.9" fill="none"/>
<path d="M414.5,114.2H546.4V10.45" stroke="#c4c4c4" stroke-width="0.9" fill="none"/>
<path d="M414.1,10.45H546.8" stroke="#858585" stroke-width="0.9" fill="none"/>
<text x="480.4" y="8.9" font-size="7.35" text-anchor="middle">R=-0.63</text>
<text transform="translate(428.7,120.8) scale(0.925,1)" font-size="6.85" text-anchor="middle">1750</text>
<line x1="428.7" y1="114.2" x2="428.7" y2="115.6" stroke="#888" stroke-width="0.6"/>
<text transform="translate(446.7,120.8) scale(0.925,1)" font-size="6.85" text-anchor="middle">2000</text>
<line x1="446.7" y1="114.2" x2="446.7" y2="115.6" stroke="#888" stroke-width="0.6"/>
<text transform="translate(464.7,120.8) scale(0.925,1)" font-size="6.85" text-anchor="middle">2250</text>
<line x1="464.7" y1="114.2" x2="464.7" y2="115.6" stroke="#888" stroke-width="0.6"/>
<text transform="translate(482.7,120.8) scale(0.925,1)" font-size="6.85" text-anchor="middle">2500</text>
<line x1="482.7" y1="114.2" x2="482.7" y2="115.6" stroke="#888" stroke-width="0.6"/>
<text transform="translate(500.7,120.8) scale(0.925,1)" font-size="6.85" text-anchor="middle">2750</text>
<line x1="500.7" y1="114.2" x2="500.7" y2="115.6" stroke="#888" stroke-width="0.6"/>
<text transform="translate(518.7,120.8) scale(0.925,1)" font-size="6.85" text-anchor="middle">3000</text>
<line x1="518.7" y1="114.2" x2="518.7" y2="115.6" stroke="#888" stroke-width="0.6"/>
<text transform="translate(536.7,120.8) scale(0.925,1)" font-size="6.85" text-anchor="middle">3250</text>
<line x1="536.7" y1="114.2" x2="536.7" y2="115.6" stroke="#888" stroke-width="0.6"/>
<text x="480.4" y="129.6" font-size="7.35" text-anchor="middle">velocity of shear wave(m/s)</text>
<text x="480.4" y="137.3" font-size="7.35" text-anchor="middle">(c)</text>
<text transform="translate(413.3,18.4) scale(0.925,1)" font-size="6.85" text-anchor="end">175</text>
<line x1="412.9" y1="15.8" x2="414.5" y2="15.8" stroke="#888" stroke-width="0.6"/>
<text transform="translate(413.3,31.1) scale(0.925,1)" font-size="6.85" text-anchor="end">150</text>
<line x1="412.9" y1="28.5" x2="414.5" y2="28.5" stroke="#888" stroke-width="0.6"/>
<text transform="translate(413.3,43.8) scale(0.925,1)" font-size="6.85" text-anchor="end">125</text>
<line x1="412.9" y1="41.1" x2="414.5" y2="41.1" stroke="#888" stroke-width="0.6"/>
<text transform="translate(413.3,56.4) scale(0.925,1)" font-size="6.85" text-anchor="end">100</text>
<line x1="412.9" y1="53.8" x2="414.5" y2="53.8" stroke="#888" stroke-width="0.6"/>
<text transform="translate(413.3,69.2) scale(0.925,1)" font-size="6.85" text-anchor="end">75</text>
<line x1="412.9" y1="66.5" x2="414.5" y2="66.5" stroke="#888" stroke-width="0.6"/>
<text transform="translate(413.3,81.9) scale(0.925,1)" font-size="6.85" text-anchor="end">50</text>
<line x1="412.9" y1="79.2" x2="414.5" y2="79.2" stroke="#888" stroke-width="0.6"/>
<text transform="translate(413.3,94.5) scale(0.925,1)" font-size="6.85" text-anchor="end">25</text>
<line x1="412.9" y1="91.8" x2="414.5" y2="91.8" stroke="#888" stroke-width="0.6"/>
<text transform="translate(413.3,107.2) scale(0.925,1)" font-size="6.85" text-anchor="end">0</text>
<line x1="412.9" y1="104.5" x2="414.5" y2="104.5" stroke="#888" stroke-width="0.6"/>
<text transform="translate(398.9,62.3) rotate(-90)" font-size="7.35" text-anchor="middle">RESIS(Ω·m)</text>
<path d="M37.1,252.8 40.6,248.4 45.9,244.8 49.4,243.9 51.5,242.0 53.0,240.0 54.3,235.2 55.0,231.8 56.5,227.7 59.0,225.0 62.8,223.4 67.0,221.5 69.6,220.7 73.7,218.0 77.7,212.0 81.3,207.0 88.3,201.7 93.6,197.2 97.0,193.7 104.1,190.2 111.0,188.5 118.2,187.5 120.9,186.0 124.0,187.0 127.0,187.5 132.4,185.7 137.7,183.1 143.0,178.7 145.6,174.3 150.0,171.6 152.7,167.2 154.5,168.0 158.0,175.0 158.0,184.0 155.5,186.0 150.0,190.2 143.0,196.4 135.9,202.5 132.4,208.7 127.0,212.0 123.5,213.5 120.8,215.9 114.0,221.3 107.2,224.0 100.5,225.4 93.7,226.7 86.9,225.4 81.4,228.0 76.4,230.2 69.6,234.3 65.3,235.9 62.5,238.6 59.8,241.3 55.7,244.0 50.3,246.7 47.0,248.5 44.9,250.1 40.8,252.2 37.4,254.2Z" fill="#1f77b4"/><path d="M110.5 225.9h0M111.8 225.7h0M113.7 226.2h0M114.7 224.8h0M103.3 227.6h0M106.5 227.5h0M108.0 226.9h0M111.1 227.6h0M112.3 227.4h0M113.2 227.1h0M94.9 228.5h0M96.2 229.1h0M97.1 228.0h0M98.1 229.1h0M100.0 229.1h0M101.5 228.5h0M102.7 228.0h0M104.2 228.8h0M106.3 228.3h0M109.4 228.2h0M110.1 229.0h0M112.0 228.0h0M113.6 228.2h0M92.7 229.4h0M94.3 230.3h0M95.6 230.1h0M96.5 229.6h0M99.4 230.7h0M100.9 229.7h0M101.2 230.2h0M103.5 230.7h0M104.9 230.2h0M105.5 230.7h0M87.2 231.8h0M88.9 231.7h0M91.3 231.7h0M93.0 231.3h0M93.6 231.1h0M96.1 231.7h0M97.0 231.3h0M100.7 231.1h0M102.1 231.1h0M85.7 233.4h0M86.1 232.5h0M88.3 233.7h0M92.6 233.7h0M93.8 232.5h0M96.2 232.7h0M97.7 232.9h0M99.0 233.2h0M99.7 232.7h0M83.4 233.8h0M85.0 234.6h0M86.0 234.9h0M88.5 233.8h0M90.3 235.1h0M91.0 235.1h0M92.6 234.1h0M94.2 234.0h0M96.4 234.9h0M96.7 233.9h0M79.8 236.0h0M82.0 236.7h0M84.4 235.4h0M87.2 235.8h0M88.9 235.6h0M89.8 236.3h0M90.8 235.8h0M73.7 237.6h0M76.0 237.7h0M77.0 237.2h0M79.9 238.1h0M81.4 237.0h0M81.7 237.1h0M83.8 238.1h0M87.9 237.6h0M69.5 239.0h0M71.9 238.7h0M72.7 239.0h0M74.3 238.7h0M75.9 238.9h0M77.9 239.6h0M78.7 239.0h0M81.2 238.3h0M82.8 239.1h0M83.0 238.5h0M69.2 240.5h0M70.8 241.0h0M72.2 241.2h0M72.8 240.5h0M74.4 240.9h0M75.7 241.2h0M77.2 240.9h0M79.1 240.5h0M65.9 242.0h0M66.5 241.7h0M69.3 242.7h0M70.1 241.5h0M71.8 242.4h0M73.4 242.1h0M74.2 242.0h0M76.0 242.2h0M78.4 242.1h0M79.3 242.3h0M81.2 241.5h0M65.3 243.6h0M67.9 243.2h0M68.6 243.5h0M70.5 243.7h0M71.6 242.9h0M73.1 244.1h0M76.5 244.0h0M78.2 243.7h0M65.7 245.5h0M67.8 245.6h0M69.1 245.7h0M70.1 245.6h0M71.5 244.4h0M73.8 244.5h0M74.2 245.5h0M68.0 247.0h0M69.7 246.0h0M71.9 245.9h0M63.5 248.6h0M65.4 247.3h0M66.6 248.4h0M64.4 250.1h0M65.8 249.5h0M68.1 249.1h0M61.7 250.9h0M63.1 251.5h0M63.5 250.6h0M65.9 251.4h0M60.3 252.9h0M60.6 253.1h0M62.0 252.2h0M57.8 254.6h0M59.7 254.6h0M61.2 254.5h0M63.3 253.9h0M58.0 255.6h0M59.4 254.9h0M60.8 255.3h0M54.4 257.4h0M57.2 257.2h0M58.6 256.3h0M59.5 256.4h0M55.5 258.5h0" stroke="#1f77b4" stroke-width="1.7" stroke-linecap="round" fill="none"/><path d="M53.7,259.0 54.4,256.3 58.5,254.2 61.2,253.0 61.2,256.3 57.8,258.3 54.5,260.0Z" fill="#1f77b4"/><path d="M121.0 187.1h0M121.1 185.9h0M121.0 185.2h0M121.1 183.8h0M120.9 183.1h0M120.9 182.3h0M120.9 181.0h0M121.2 180.1h0M120.9 178.9h0M121.3 177.7h0M121.6 177.1h0M121.8 176.2h0M123.5 175.2h0M123.9 175.9h0M124.0 177.3h0M124.2 178.0h0M124.7 179.5h0M124.3 180.4h0M124.2 181.5h0M123.9 182.8h0M123.9 183.9h0M124.1 184.8h0M124.3 186.2h0" stroke="#1f77b4" stroke-width="1.7" stroke-linecap="round" fill="none"/><path d="M149.9 166.6h0M146.3 170.4h0M158.8 171.9h0M139.1 174.2h0M136.9 177.9h0M133.0 179.9h0M134.2 181.4h0M136.9 181.5h0M124.1 181.9h0M123.2 184.0h0M124.9 184.9h0M150.4 192.6h0M93.0 195.8h0M143.9 197.6h0M145.1 198.3h0M87.7 201.2h0M142.0 200.0h0M83.7 202.6h0M84.9 202.2h0M88.2 201.3h0M79.3 208.4h0M75.1 212.3h0M128.3 212.1h0M74.3 213.3h0M126.3 214.1h0M71.1 215.1h0M72.8 217.2h0M68.8 220.5h0M123.2 219.9h0M124.2 219.3h0M112.4 223.1h0M88.8 226.4h0M90.9 226.7h0M102.0 226.2h0M104.6 226.4h0M98.7 227.2h0M122.6 218.3h0M123.5 222.7h0M123.5 226.3h0M100.5 235.1h0M152.5 165.0h0M153.5 166.0h0" stroke="#1f77b4" stroke-width="1.7" stroke-linecap="round" fill="none"/><line x1="37.5" y1="249.3" x2="157.5" y2="181.0" stroke="#107a10" stroke-width="0.6"/>
<path d="M31.4,265.1V161.6" stroke="#d4d4d4" stroke-width="0.9" fill="none"/>
<path d="M31.4,265.1H163.4V161.6" stroke="#c4c4c4" stroke-width="0.9" fill="none"/>
<path d="M31.0,161.6H163.8" stroke="#858585" stroke-width="0.9" fill="none"/>
<text x="97.4" y="160.0" font-size="7.35" text-anchor="middle">R=-0.87</text>
<text transform="translate(45.6,272.7) scale(0.925,1)" font-size="6.85" text-anchor="middle">1750</text>
<line x1="45.6" y1="265.1" x2="45.6" y2="266.5" stroke="#888" stroke-width="0.6"/>
<text transform="translate(63.6,272.7) scale(0.925,1)" font-size="6.85" text-anchor="middle">2000</text>
<line x1="63.6" y1="265.1" x2="63.6" y2="266.5" stroke="#888" stroke-width="0.6"/>
<text transform="translate(81.6,272.7) scale(0.925,1)" font-size="6.85" text-anchor="middle">2250</text>
<line x1="81.6" y1="265.1" x2="81.6" y2="266.5" stroke="#888" stroke-width="0.6"/>
<text transform="translate(99.6,272.7) scale(0.925,1)" font-size="6.85" text-anchor="middle">2500</text>
<line x1="99.6" y1="265.1" x2="99.6" y2="266.5" stroke="#888" stroke-width="0.6"/>
<text transform="translate(117.6,272.7) scale(0.925,1)" font-size="6.85" text-anchor="middle">2750</text>
<line x1="117.6" y1="265.1" x2="117.6" y2="266.5" stroke="#888" stroke-width="0.6"/>
<text transform="translate(135.6,272.7) scale(0.925,1)" font-size="6.85" text-anchor="middle">3000</text>
<line x1="135.6" y1="265.1" x2="135.6" y2="266.5" stroke="#888" stroke-width="0.6"/>
<text transform="translate(153.6,272.7) scale(0.925,1)" font-size="6.85" text-anchor="middle">3250</text>
<line x1="153.6" y1="265.1" x2="153.6" y2="266.5" stroke="#888" stroke-width="0.6"/>
<text x="97.4" y="280.5" font-size="7.35" text-anchor="middle">velocity of shear wave(m/s)</text>
<text x="97.4" y="288.2" font-size="7.35" text-anchor="middle">(d)</text>
<text transform="translate(30.2,173.2) scale(0.925,1)" font-size="6.85" text-anchor="end">5500</text>
<line x1="29.8" y1="170.5" x2="31.4" y2="170.5" stroke="#888" stroke-width="0.6"/>
<text transform="translate(30.2,191.3) scale(0.925,1)" font-size="6.85" text-anchor="end">5000</text>
<line x1="29.8" y1="188.7" x2="31.4" y2="188.7" stroke="#888" stroke-width="0.6"/>
<text transform="translate(30.2,209.6) scale(0.925,1)" font-size="6.85" text-anchor="end">4500</text>
<line x1="29.8" y1="206.9" x2="31.4" y2="206.9" stroke="#888" stroke-width="0.6"/>
<text transform="translate(30.2,227.8) scale(0.925,1)" font-size="6.85" text-anchor="end">4000</text>
<line x1="29.8" y1="225.1" x2="31.4" y2="225.1" stroke="#888" stroke-width="0.6"/>
<text transform="translate(30.2,246.0) scale(0.925,1)" font-size="6.85" text-anchor="end">3500</text>
<line x1="29.8" y1="243.3" x2="31.4" y2="243.3" stroke="#888" stroke-width="0.6"/>
<text transform="translate(30.2,264.1) scale(0.925,1)" font-size="6.85" text-anchor="end">3000</text>
<line x1="29.8" y1="261.5" x2="31.4" y2="261.5" stroke="#888" stroke-width="0.6"/>
<text transform="translate(10.6,213.4) rotate(-90)" font-size="7.35" text-anchor="middle">VP(m/s)</text>
<path d="M315.3 166.6h0M313.0 167.4h0M303.9 169.2h0M305.8 168.7h0M309.0 169.2h0M313.9 169.6h0M317.9 169.5h0M302.0 170.3h0M306.3 170.1h0M314.6 170.1h0M302.0 172.5h0M304.4 172.6h0M305.8 172.5h0M307.3 172.3h0M309.1 171.8h0M312.1 172.4h0M302.5 173.6h0M304.6 174.1h0M305.3 172.9h0M308.0 172.8h0M312.5 174.1h0M313.6 173.1h0M315.6 173.7h0M316.9 174.0h0M317.4 174.1h0M309.2 174.3h0M312.0 175.3h0M313.3 174.8h0M315.7 175.6h0M301.9 176.7h0M303.2 176.4h0M311.2 176.4h0M314.2 176.0h0M314.4 177.2h0M315.9 176.0h0M302.3 178.3h0M304.1 177.9h0M306.6 178.6h0M312.2 177.5h0M314.5 177.8h0M304.7 179.3h0M307.3 179.7h0M308.6 179.4h0M310.4 179.0h0M315.0 179.5h0M316.8 179.5h0M301.9 180.8h0M303.4 181.6h0M304.8 181.1h0M306.6 181.1h0M307.6 181.5h0M308.5 181.2h0M310.9 181.2h0M311.9 181.7h0M314.8 180.3h0M311.5 182.7h0M315.5 182.2h0M316.5 183.2h0M303.6 183.6h0M304.7 183.4h0M305.4 184.3h0M306.9 184.5h0M310.3 184.7h0M311.3 183.8h0M313.0 184.4h0M316.9 183.4h0M302.8 185.0h0M304.2 184.8h0M306.1 185.5h0M309.0 185.9h0M313.7 186.1h0M305.8 187.2h0M309.2 186.3h0M313.8 186.7h0M316.7 187.4h0M303.2 189.0h0M306.1 188.9h0M309.7 188.5h0M317.2 187.8h0M304.2 189.6h0M308.5 189.6h0M312.6 190.0h0M313.1 189.5h0M314.9 189.6h0M302.9 191.4h0M308.0 190.9h0M309.2 192.0h0M310.3 191.0h0M313.6 190.8h0M302.2 192.6h0M305.0 192.4h0M311.0 193.7h0M311.4 192.8h0M314.2 192.5h0M302.3 195.1h0M303.8 195.2h0M307.5 194.0h0M309.2 194.6h0M311.0 194.5h0M311.9 195.1h0M313.1 194.4h0M302.3 195.4h0M305.2 196.5h0M305.3 195.6h0M309.3 195.5h0M310.2 195.5h0M311.9 195.5h0M313.1 196.2h0M314.4 195.7h0M315.8 195.6h0M304.9 197.4h0M310.3 197.8h0M308.0 199.2h0M311.2 199.4h0M311.5 199.7h0M313.9 199.6h0M314.6 199.3h0M309.1 200.0h0M310.1 199.9h0M310.9 202.5h0M312.7 202.2h0M313.5 201.8h0M315.0 202.2h0M312.0 203.9h0M314.5 203.4h0M312.2 204.9h0M313.4 204.9h0M314.5 204.5h0M316.4 204.8h0M312.1 205.8h0M315.5 206.2h0M313.8 208.6h0M314.9 208.6h0M316.9 207.6h0M317.4 211.0h0M316.2 212.3h0M317.7 213.2h0M313.6 166.5h0M321.7 166.7h0M316.1 166.9h0M318.8 167.2h0M322.6 167.6h0M324.1 166.8h0M320.7 168.4h0M317.1 170.5h0M325.9 170.8h0M314.6 172.2h0M315.9 171.7h0M321.0 172.0h0M314.4 173.5h0M322.3 172.8h0M320.3 176.9h0M323.3 176.2h0M315.1 178.7h0M321.3 178.7h0M315.4 179.6h0M324.0 180.2h0M315.3 181.1h0M318.7 181.3h0M320.0 181.0h0M320.5 181.5h0M322.8 181.0h0M324.8 180.9h0M315.4 182.4h0M325.4 183.1h0M315.6 185.7h0M318.9 184.9h0M322.9 185.3h0M319.6 186.3h0M323.6 187.7h0M322.9 188.2h0M318.7 190.3h0M319.0 190.6h0M320.7 189.8h0M322.6 189.3h0M317.2 191.9h0M319.8 191.1h0M319.8 192.8h0M320.5 192.4h0M324.4 192.9h0M317.5 195.4h0M322.7 196.3h0M325.0 196.3h0M318.5 196.8h0M318.0 199.6h0M321.2 199.2h0M324.2 198.6h0M325.5 198.7h0M319.5 200.1h0M323.5 199.9h0M322.5 201.4h0M321.1 204.2h0M325.9 205.5h0M326.4 204.3h0M328.0 205.4h0M320.6 206.2h0M322.6 206.4h0M326.7 205.9h0M319.8 208.2h0M323.5 207.8h0M325.6 208.4h0M326.6 208.4h0M328.3 207.6h0M321.9 209.9h0M323.9 209.3h0M326.3 209.1h0M321.0 210.7h0M324.7 211.6h0M327.7 210.3h0M321.3 212.2h0M320.8 214.1h0M322.3 213.4h0M317.1 206.5h0M318.7 206.9h0M316.8 207.4h0M318.3 207.3h0M320.0 208.8h0M321.9 209.4h0M318.7 211.3h0M327.2 212.3h0M328.2 211.9h0M319.8 214.5h0M332.4 214.1h0M320.1 216.1h0M326.9 216.2h0M329.2 214.8h0M319.9 216.7h0M332.8 216.7h0M334.9 216.8h0M321.5 218.5h0M326.7 218.6h0M329.7 218.0h0M330.4 219.1h0M336.1 218.4h0M324.7 220.2h0M327.2 220.3h0M337.1 220.4h0M325.3 221.2h0M328.6 221.2h0M330.8 220.9h0M324.4 222.9h0M331.6 223.5h0M335.9 222.7h0M326.6 223.8h0M330.1 224.4h0M332.4 224.0h0M334.3 224.5h0M337.5 224.0h0M338.9 225.2h0M328.4 225.4h0M328.8 226.4h0M333.5 225.9h0M330.3 227.2h0M336.9 228.0h0M336.2 228.9h0M341.3 228.9h0M334.8 230.6h0M340.2 230.8h0M338.1 232.2h0M340.1 234.7h0M341.5 236.9h0M343.3 238.2h0M345.3 241.2h0M346.9 240.5h0M248.0 246.2h0M251.3 246.2h0M252.3 246.4h0M260.2 246.1h0M264.7 246.6h0M251.8 247.7h0M254.2 247.3h0M256.2 246.8h0M263.8 247.9h0M269.6 247.8h0M249.2 248.3h0M257.0 248.4h0M260.8 248.5h0M263.9 249.4h0M267.0 248.6h0M253.2 250.1h0M258.7 251.2h0M260.0 250.4h0M263.3 250.1h0M264.0 250.0h0M268.5 250.5h0M252.7 252.1h0M254.4 252.2h0M257.1 252.0h0M261.1 251.6h0M263.7 252.3h0M263.9 252.0h0" stroke="#1f77b4" stroke-width="1.7" stroke-linecap="round" fill="none"/><path d="M242.2,166.0 312.7,166.0 312.7,167.6 304.0,167.6 302.0,175.0 301.5,190.0 302.0,196.0 306.0,200.0 310.0,203.0 315.0,211.0 320.7,220.7 328.0,226.0 335.0,231.4 340.0,236.0 345.7,242.0 349.0,248.0 349.0,251.5 344.6,255.4 332.2,256.3 314.5,257.2 302.1,258.0 288.0,260.0 276.0,259.0 271.0,254.0 262.0,250.0 250.0,248.0 245.5,246.0 244.8,230.0 244.0,210.0 243.2,189.2 242.3,175.6Z" fill="#1f77b4"/><path d="M261.4 170.2v2.5M258.2 171.8v2.5M256.1 172.6v2.5M261.6 175.2v2.5M251.1 176.7v2.5M252.8 176.5v2.5M257.0 177.7v2.5M251.8 179.2v2.5M255.5 180.1v2.5M257.2 180.0v2.5M250.6 181.2v2.5M251.8 181.2v2.5M253.7 180.8v2.5M260.0 180.7v2.5M251.0 182.6v2.5M258.6 182.3v2.5M252.0 186.0v2.5M255.4 185.6v2.5M252.8 190.8v2.5M259.1 191.6v2.5M257.1 192.8v2.5M252.0 193.4v2.5M261.2 197.6v2.5M256.2 198.4v2.5M252.6 200.6v2.5M258.8 200.8v2.5M253.0 202.5v2.5M256.3 201.2v2.5M262.2 176.9v2.5M262.5 177.7v2.5M265.6 182.3v2.5M263.7 184.9v2.5M266.3 184.9v2.5M263.1 185.6v2.5M268.8 189.0v2.5M264.3 190.9v2.5M268.3 192.4v2.5M265.7 199.1v2.5M253.3 205.2v2.5M250.8 206.9v2.5M264.4 207.3v2.5M253.3 208.0v2.5M258.0 208.7v2.5M260.2 208.5v2.5M260.5 208.6v2.5M263.4 208.9v2.5M252.9 209.1v2.5M256.6 209.2v2.5M259.4 210.1v2.5M264.9 209.3v2.5M256.4 211.3v2.5M256.7 212.4v2.5M258.5 212.7v2.5M262.3 213.1v2.5M264.6 212.6v2.5M256.3 214.4v2.5M258.4 214.7v2.5M261.0 215.2v2.5M255.2 216.8v2.5M257.1 215.7v2.5M259.0 216.4v2.5M250.4 218.6v2.5M255.1 217.6v2.5M255.7 217.5v2.5M260.2 218.2v2.5M261.5 217.5v2.5M250.7 219.4v2.5M254.5 218.6v2.5M263.2 220.2v2.5M264.3 219.5v2.5M255.2 221.1v2.5M259.0 221.2v2.5M252.8 222.7v2.5M257.9 222.2v2.5M259.2 222.6v2.5M262.2 223.3v2.5M264.4 223.0v2.5M258.6 224.7v2.5M259.3 223.8v2.5M263.3 223.8v2.5M250.1 226.2v2.5M252.4 225.2v2.5M258.2 226.1v2.5M260.8 226.3v2.5M263.4 225.6v2.5M264.8 225.7v2.5M254.1 227.4v2.5M258.6 227.1v2.5M260.3 227.1v2.5M264.0 227.5v2.5M252.2 229.1v2.5M251.8 229.9v2.5M254.0 230.3v2.5M257.2 230.5v2.5M259.4 230.3v2.5M263.5 231.1v2.5M264.4 231.2v2.5M254.5 232.5v2.5M258.0 231.4v2.5M259.0 232.5v2.5M254.2 234.5v2.5M258.8 233.2v2.5M260.8 234.3v2.5M250.9 234.6v2.5M253.1 235.6v2.5M263.5 235.7v2.5M263.8 237.2v2.5M256.8 238.7v2.5M258.0 238.2v2.5M264.0 238.0v2.5M258.0 240.2v2.5M259.2 239.9v2.5M264.8 240.8v2.5M255.3 241.7v2.5M259.9 242.4v2.5M250.2 243.0v2.5M251.8 243.8v2.5M260.6 242.7v2.5M254.2 245.0v2.5M258.2 246.7v2.5M259.8 247.2v2.5M264.7 246.1v2.5M269.9 213.7v2.5M271.0 213.6v2.5M266.0 214.4v2.5M269.1 216.5v2.5M270.7 217.1v2.5M268.4 219.0v2.5M270.4 219.4v2.5M267.7 222.1v2.5M270.9 222.0v2.5M267.8 222.4v2.5M269.5 223.5v2.5M270.4 223.1v2.5M267.8 226.3v2.5M270.5 226.0v2.5M266.3 228.4v2.5M267.8 227.3v2.5M269.3 227.8v2.5M267.2 229.4v2.5M267.6 230.9v2.5M268.8 231.6v2.5M270.4 232.4v2.5M268.1 235.4v2.5M268.2 237.5v2.5M267.3 239.8v2.5M270.2 242.1v2.5M270.0 244.8v2.5M267.1 246.3v2.5M268.1 247.6v2.5M269.9 246.9v2.5M270.1 247.9v2.5M268.6 249.5v2.5M270.7 251.2v2.5M285.8 170.1v2.5M284.9 177.6v2.5M287.8 177.5v2.5M283.3 179.8v2.5M285.3 179.4v2.5M288.1 180.5v2.5M283.7 185.2v2.5M286.8 190.2v2.5M287.0 195.6v2.5M285.1 197.8v2.5M284.7 200.6v2.5M285.6 199.6v2.5M284.6 206.0v2.5M286.0 209.4v2.5M288.6 211.3v2.5" stroke="#fff" stroke-width="1.0" fill="none"/><path d="M279.2 173.2h0M287.5 175.7h0M272.4 179.1h0M286.6 182.7h0M285.4 185.1h0M288.6 187.2h0M272.9 188.7h0M289.1 190.2h0M289.6 189.5h0M290.9 190.1h0M277.1 191.7h0M278.9 191.3h0M270.2 193.6h0M272.6 196.5h0M284.5 196.9h0M277.6 199.7h0M277.3 199.8h0M274.0 203.8h0M297.4 202.8h0M290.0 205.8h0M287.0 207.9h0M284.5 211.5h0M276.5 210.4h0M293.0 210.5h0M294.5 210.0h0M287.9 212.6h0M301.1 212.2h0M304.4 212.0h0M289.1 212.9h0M305.0 213.7h0M310.3 213.9h0M277.8 215.1h0M306.9 215.2h0M315.9 215.4h0M285.2 216.8h0M291.5 216.8h0M304.2 215.8h0M316.6 216.3h0M318.9 215.9h0M283.2 217.8h0M295.3 218.5h0M277.5 219.6h0M290.8 219.1h0M295.8 219.9h0M297.9 220.5h0M310.2 221.4h0M276.9 221.9h0M323.1 224.1h0M323.8 224.0h0M325.2 223.8h0M278.3 224.8h0M286.6 226.1h0M295.1 225.3h0M281.4 227.1h0M286.5 228.4h0M309.5 228.5h0M320.0 228.0h0M329.5 228.5h0M309.9 229.5h0M284.1 233.2h0M297.8 233.3h0M301.0 232.5h0M307.1 232.3h0M328.3 234.0h0M280.0 236.7h0M294.7 235.4h0M318.0 236.7h0M322.0 236.5h0M321.3 237.7h0M322.4 237.9h0M297.0 239.0h0M298.5 238.8h0M311.9 239.7h0M315.7 239.2h0M311.7 240.1h0M296.8 241.4h0M312.7 242.7h0M276.2 243.0h0M304.9 243.8h0M312.1 242.9h0M296.5 246.5h0M306.9 246.5h0M292.9 247.8h0M323.1 242.1h0M309.9 242.6h0M314.1 243.7h0M319.7 242.4h0M336.8 244.4h0M344.0 244.4h0M313.9 245.4h0M323.6 246.2h0M344.0 245.8h0M348.4 245.4h0M305.8 246.9h0M325.6 248.2h0M331.0 247.0h0M305.3 248.7h0M324.7 248.7h0M333.3 248.5h0M347.1 248.5h0M325.8 249.9h0M347.0 250.5h0M321.7 251.4h0M332.4 251.4h0M334.0 251.3h0M318.7 254.0h0M346.1 254.2h0M307.5 254.6h0M321.4 254.8h0M331.0 254.5h0M331.8 254.3h0M347.9 254.9h0" stroke="#fff" stroke-width="1.3" stroke-linecap="round" fill="none"/><path d="M230.6,192.7 233.5,192.0 235.0,199.0 236.8,204.0 237.0,209.5 233.0,210.0 230.8,205.0 230.2,198.0Z" fill="#1f77b4"/><path d="M234.0,209.6 245.0,209.6 245.0,211.3 234.0,211.3Z" fill="#1f77b4"/><path d="M229.5,217.5 231.8,217.0 234.5,222.5 237.0,227.0 239.5,233.0 241.0,238.0 241.2,244.0 238.8,244.6 236.8,239.0 235.0,234.0 232.5,228.0 230.0,222.0Z" fill="#1f77b4"/><path d="M230.1 212.6h0M229.5 213.0h0M228.2 216.2h0M231.1 216.3h0M231.5 217.7h0" stroke="#1f77b4" stroke-width="1.7" stroke-linecap="round" fill="none"/><path d="M316.0 166.5h0M320.0 166.5h0M324.0 166.5h0M326.9 166.5h0M341.0 202.5h0M326.0 178.0h0M322.0 178.0h0M252.0 254.5h0M253.0 256.5h0M318.0 190.0h0M322.0 195.0h0M229.0 220.0h0M230.0 224.0h0M233.0 229.0h0" stroke="#1f77b4" stroke-width="1.7" stroke-linecap="round" fill="none"/><line x1="228.4" y1="167.2" x2="348.5" y2="241.4" stroke="#107a10" stroke-width="0.6"/>
<path d="M222.5,265.1V161.6" stroke="#d4d4d4" stroke-width="0.9" fill="none"/>
<path d="M222.5,265.1H354.6V161.6" stroke="#c4c4c4" stroke-width="0.9" fill="none"/>
<path d="M222.1,161.6H355.0" stroke="#858585" stroke-width="0.9" fill="none"/>
<text x="288.6" y="160.0" font-size="7.35" text-anchor="middle">R=-0.50</text>
<text transform="translate(236.7,272.7) scale(0.925,1)" font-size="6.85" text-anchor="middle">1750</text>
<line x1="236.7" y1="265.1" x2="236.7" y2="266.5" stroke="#888" stroke-width="0.6"/>
<text transform="translate(254.7,272.7) scale(0.925,1)" font-size="6.85" text-anchor="middle">2000</text>
<line x1="254.7" y1="265.1" x2="254.7" y2="266.5" stroke="#888" stroke-width="0.6"/>
<text transform="translate(272.7,272.7) scale(0.925,1)" font-size="6.85" text-anchor="middle">2250</text>
<line x1="272.7" y1="265.1" x2="272.7" y2="266.5" stroke="#888" stroke-width="0.6"/>
<text transform="translate(290.7,272.7) scale(0.925,1)" font-size="6.85" text-anchor="middle">2500</text>
<line x1="290.7" y1="265.1" x2="290.7" y2="266.5" stroke="#888" stroke-width="0.6"/>
<text transform="translate(308.7,272.7) scale(0.925,1)" font-size="6.85" text-anchor="middle">2750</text>
<line x1="308.7" y1="265.1" x2="308.7" y2="266.5" stroke="#888" stroke-width="0.6"/>
<text transform="translate(326.7,272.7) scale(0.925,1)" font-size="6.85" text-anchor="middle">3000</text>
<line x1="326.7" y1="265.1" x2="326.7" y2="266.5" stroke="#888" stroke-width="0.6"/>
<text transform="translate(344.7,272.7) scale(0.925,1)" font-size="6.85" text-anchor="middle">3250</text>
<line x1="344.7" y1="265.1" x2="344.7" y2="266.5" stroke="#888" stroke-width="0.6"/>
<text x="288.6" y="280.5" font-size="7.35" text-anchor="middle">velocity of shear wave(m/s)</text>
<text x="288.6" y="288.2" font-size="7.35" text-anchor="middle">(e)</text>
<text transform="translate(221.3,168.7) scale(0.925,1)" font-size="6.85" text-anchor="end">1.0</text>
<line x1="220.9" y1="166.0" x2="222.5" y2="166.0" stroke="#888" stroke-width="0.6"/>
<text transform="translate(221.3,187.8) scale(0.925,1)" font-size="6.85" text-anchor="end">0.8</text>
<line x1="220.9" y1="185.1" x2="222.5" y2="185.1" stroke="#888" stroke-width="0.6"/>
<text transform="translate(221.3,206.8) scale(0.925,1)" font-size="6.85" text-anchor="end">0.6</text>
<line x1="220.9" y1="204.2" x2="222.5" y2="204.2" stroke="#888" stroke-width="0.6"/>
<text transform="translate(221.3,225.8) scale(0.925,1)" font-size="6.85" text-anchor="end">0.4</text>
<line x1="220.9" y1="223.2" x2="222.5" y2="223.2" stroke="#888" stroke-width="0.6"/>
<text transform="translate(221.3,245.0) scale(0.925,1)" font-size="6.85" text-anchor="end">0.2</text>
<line x1="220.9" y1="242.3" x2="222.5" y2="242.3" stroke="#888" stroke-width="0.6"/>
<text transform="translate(221.3,264.0) scale(0.925,1)" font-size="6.85" text-anchor="end">0.0</text>
<line x1="220.9" y1="261.4" x2="222.5" y2="261.4" stroke="#888" stroke-width="0.6"/>
<text transform="translate(208.1,213.4) rotate(-90)" font-size="7.35" text-anchor="middle">V Clay(%)</text>
<path d="M454.7 186.1h0M456.1 186.1h0M457.0 186.0h0M460.3 186.5h0M462.3 186.2h0M466.9 186.1h0M475.7 186.5h0M478.6 186.0h0M478.9 186.2h0M481.3 186.6h0M485.9 186.2h0M490.1 186.4h0M491.8 186.7h0M498.5 186.1h0M506.0 186.7h0M508.4 186.3h0M437.8 187.2h0M439.0 188.1h0M440.4 188.2h0M442.3 188.1h0M442.8 187.9h0M445.0 188.0h0M446.1 186.9h0M451.4 187.1h0M454.6 188.2h0M454.8 187.6h0M458.9 186.8h0M460.3 187.4h0M462.2 187.2h0M462.9 187.4h0M464.9 186.9h0M468.1 188.0h0M468.4 188.2h0M470.2 187.5h0M473.9 187.7h0M477.5 188.2h0M479.4 187.3h0M481.5 188.1h0M482.5 187.5h0M484.6 187.4h0M488.2 188.1h0M489.4 187.1h0M495.0 188.2h0M495.4 187.6h0M497.4 188.2h0M500.3 187.5h0M502.4 187.7h0M503.4 188.0h0M506.6 187.7h0M508.1 187.6h0M438.3 188.4h0M441.1 189.2h0M442.4 189.6h0M445.0 189.0h0M446.0 188.3h0M447.6 189.1h0M449.2 189.4h0M450.9 188.9h0M453.2 189.4h0M454.4 189.0h0M454.8 188.3h0M458.9 188.9h0M459.9 188.4h0M465.1 188.5h0M466.7 188.6h0M469.0 189.1h0M471.0 188.6h0M472.9 188.9h0M477.0 188.3h0M477.6 188.5h0M479.8 189.0h0M481.9 188.6h0M487.7 189.4h0M490.0 188.6h0M491.3 189.4h0M493.0 188.5h0M494.0 188.3h0M498.3 189.1h0M501.2 188.5h0M501.8 189.4h0M502.8 189.0h0M504.5 188.3h0M507.0 189.7h0M507.7 189.2h0M438.0 190.3h0M439.0 189.9h0M439.9 190.2h0M442.3 191.2h0M442.9 190.7h0M444.6 190.7h0M447.1 190.5h0M451.3 190.8h0M452.9 189.9h0M453.9 190.3h0M455.7 190.9h0M456.3 189.8h0M458.7 189.9h0M461.7 189.8h0M465.1 190.0h0M466.6 191.2h0M467.0 190.8h0M470.9 190.0h0M472.8 190.6h0M475.2 190.3h0M477.2 189.9h0M478.0 191.1h0M480.2 190.6h0M480.5 190.5h0M485.7 190.1h0M489.2 190.5h0M491.3 191.0h0M493.1 190.8h0M493.8 190.0h0M496.3 190.3h0M498.0 190.2h0M498.5 190.6h0M500.4 191.2h0M502.4 190.2h0M503.1 190.2h0M505.8 190.7h0M507.9 190.1h0M438.6 192.1h0M441.4 192.4h0M443.8 191.7h0M444.5 191.8h0M446.7 192.2h0M448.0 192.5h0M450.0 192.4h0M454.5 192.7h0M456.4 192.7h0M458.2 192.2h0M460.5 191.7h0M461.4 191.9h0M464.2 192.0h0M466.1 192.5h0M467.5 192.2h0M468.9 192.3h0M469.9 191.8h0M471.9 192.2h0M474.5 191.5h0M476.0 191.9h0M477.9 191.6h0M480.0 192.6h0M481.1 192.5h0M483.8 192.1h0M485.3 192.5h0M488.6 192.5h0M498.0 192.6h0M500.8 192.6h0M505.6 191.4h0M506.4 192.1h0M507.9 192.7h0M437.8 192.9h0M439.2 193.9h0M445.1 193.9h0M448.7 193.2h0M448.9 192.8h0M454.4 193.0h0M455.0 194.1h0M457.2 192.8h0M459.1 193.7h0M465.6 194.2h0M466.8 192.8h0M469.7 194.1h0M471.3 194.2h0M474.5 193.1h0M477.2 193.0h0M477.3 193.5h0M480.2 193.8h0M480.6 193.0h0M482.3 193.1h0M483.8 193.0h0M486.8 192.9h0M488.6 192.8h0M489.8 193.1h0M491.1 192.8h0M492.4 192.9h0M494.3 193.9h0M495.7 193.6h0M497.2 193.5h0M499.1 193.6h0M501.7 193.6h0M504.2 193.6h0M505.4 193.4h0M505.9 194.1h0M507.4 193.9h0M438.7 195.3h0M440.2 195.4h0M445.5 195.7h0M446.4 194.4h0M447.7 194.7h0M450.0 194.3h0M450.5 195.6h0M452.3 194.9h0M454.7 195.5h0M459.6 194.7h0M461.1 194.7h0M464.9 194.3h0M466.5 194.3h0M467.7 195.7h0M470.5 195.5h0M472.7 195.0h0M475.1 195.0h0M476.5 194.9h0M477.5 194.3h0M479.4 195.2h0M481.7 194.6h0M485.5 195.6h0M487.5 194.8h0M489.0 194.6h0M489.5 195.4h0M491.9 194.8h0M494.9 195.0h0M497.6 194.3h0M499.0 195.2h0M500.2 194.6h0M439.1 195.8h0M442.7 196.0h0M444.2 196.7h0M445.5 196.2h0M445.9 197.2h0M447.3 196.6h0M449.6 195.9h0M451.5 196.9h0M452.1 196.9h0M453.3 196.4h0M456.0 195.9h0M457.4 196.0h0M458.2 197.2h0M459.4 197.0h0M461.6 196.2h0M463.1 196.7h0M464.2 196.2h0M466.7 197.1h0M467.1 196.7h0M470.8 196.5h0M472.2 196.8h0M473.2 197.0h0M474.7 196.5h0M478.5 196.1h0M481.1 196.6h0M483.4 196.7h0M486.3 195.9h0M488.9 197.1h0M489.5 195.9h0M493.3 195.9h0M494.4 197.0h0M497.1 197.0h0M501.9 195.8h0M505.1 195.9h0M438.2 198.1h0M439.2 198.2h0M441.8 198.4h0M445.2 197.5h0M449.2 197.8h0M451.6 198.2h0M452.5 198.5h0M453.4 198.7h0M457.4 197.4h0M457.8 197.8h0M462.2 198.7h0M463.2 197.8h0M464.1 198.2h0M465.8 198.0h0M467.5 198.0h0M471.3 198.3h0M473.9 197.3h0M478.4 198.0h0M484.7 197.4h0M486.2 197.4h0M487.1 197.9h0M487.8 197.3h0M491.0 198.1h0M492.9 197.4h0M495.8 197.6h0M496.8 198.7h0M499.3 198.4h0M500.7 197.8h0M502.4 197.9h0M503.3 198.4h0M504.8 198.5h0M505.8 197.7h0M438.6 199.3h0M440.8 198.9h0M442.2 199.3h0M443.9 200.1h0M445.7 200.0h0M449.7 200.0h0M450.8 198.8h0M452.6 199.8h0M454.3 199.2h0M455.5 199.9h0M457.9 199.0h0M460.3 198.8h0M462.7 198.9h0M467.7 200.1h0M468.7 198.8h0M472.0 199.4h0M475.0 199.2h0M476.8 199.4h0M478.1 199.6h0M479.3 199.1h0M480.7 199.4h0M483.4 198.9h0M485.1 198.8h0M487.7 199.0h0M488.7 199.1h0M489.7 199.6h0M493.1 198.9h0M494.5 199.4h0M496.2 199.8h0M497.7 199.8h0M502.3 199.5h0M502.9 199.4h0M505.0 199.5h0M506.1 200.0h0M438.5 200.8h0M440.5 201.2h0M442.9 200.9h0M444.9 201.5h0M450.2 201.6h0M451.1 201.5h0M453.2 200.3h0M454.6 200.4h0M456.7 201.0h0M462.5 201.0h0M466.7 201.1h0M468.2 201.2h0M468.8 200.3h0M472.4 200.7h0M476.6 200.4h0M479.8 200.5h0M483.3 200.3h0M485.7 201.0h0M486.7 200.5h0M488.6 201.1h0M494.4 201.1h0M495.7 200.6h0M497.6 201.2h0M500.4 201.1h0M503.9 201.1h0M504.5 200.9h0M506.7 201.5h0M508.3 200.6h0M440.1 201.9h0M442.7 202.2h0M443.6 202.5h0M446.6 202.1h0M447.8 201.8h0M449.9 202.7h0M450.5 202.6h0M452.4 202.6h0M454.0 202.1h0M455.6 202.9h0M457.7 201.8h0M460.0 202.1h0M463.7 202.2h0M465.9 202.5h0M468.2 202.0h0M468.9 202.6h0M471.0 202.0h0M471.9 203.2h0M473.1 203.1h0M476.5 202.0h0M478.1 202.2h0M479.8 202.6h0M481.4 202.2h0M484.4 202.9h0M487.2 203.0h0M488.2 203.2h0M490.5 202.7h0M491.7 203.2h0M493.5 202.5h0M495.9 203.0h0M497.4 202.6h0M498.7 202.8h0M500.6 202.6h0M503.8 202.7h0M505.2 202.1h0M507.8 201.8h0M439.8 203.9h0M441.4 204.2h0M443.8 204.5h0M445.6 204.6h0M446.9 203.5h0M447.9 204.2h0M450.0 203.8h0M451.2 203.6h0M451.9 203.8h0M453.5 203.8h0M459.1 204.3h0M460.2 204.1h0M461.8 204.4h0M466.7 203.7h0M469.0 203.6h0M470.5 204.6h0M472.1 204.5h0M473.2 203.8h0M479.4 204.3h0M482.2 203.9h0M485.1 204.7h0M487.6 203.7h0M490.0 203.8h0M491.0 204.4h0M496.7 203.6h0M497.3 204.1h0M498.6 203.9h0M500.7 203.6h0M504.8 204.4h0M507.0 204.4h0M508.0 204.7h0M446.2 205.1h0M447.4 205.3h0M455.0 205.4h0M457.7 205.5h0M462.5 205.5h0M468.5 205.2h0M470.5 205.6h0M472.0 205.3h0M478.6 205.1h0M485.8 205.3h0M489.4 205.2h0M440.7 206.1h0M441.8 206.8h0M444.6 206.6h0M446.0 206.7h0M450.1 207.0h0M452.7 206.1h0M453.3 206.2h0M460.7 207.0h0M463.0 207.2h0M465.5 205.9h0M467.3 205.8h0M469.1 206.8h0M473.2 206.6h0M482.4 206.1h0M483.8 205.8h0M485.5 206.3h0M486.4 205.9h0M443.3 208.5h0M444.3 208.4h0M451.0 208.2h0M454.6 208.3h0M456.2 207.9h0M458.7 208.2h0M461.7 208.4h0M462.7 207.3h0M463.9 208.4h0M465.1 207.6h0M467.0 208.7h0M469.8 208.7h0M473.6 207.9h0M475.5 208.5h0M477.2 207.4h0M478.9 207.4h0M480.9 208.4h0M481.6 208.2h0M484.7 208.4h0M486.1 207.4h0M488.2 207.6h0M451.1 209.9h0M452.5 209.3h0M454.4 209.5h0M455.8 210.0h0M458.9 209.0h0M464.0 209.6h0M465.7 209.5h0M467.3 209.9h0M467.9 209.6h0M472.6 209.7h0M475.5 209.9h0M479.4 209.2h0M482.0 208.8h0M483.6 209.8h0M486.7 209.2h0M488.7 209.0h0M489.0 209.2h0M448.2 211.0h0M449.0 210.4h0M449.9 210.4h0M455.4 211.3h0M464.7 210.5h0M466.3 211.4h0M468.1 211.3h0M469.6 210.6h0M479.4 211.3h0M481.1 211.5h0M482.0 211.3h0M486.9 210.6h0M487.9 211.6h0M489.5 210.3h0M444.9 212.9h0M447.8 212.1h0M449.1 212.8h0M451.0 213.1h0M453.6 212.8h0M455.0 212.8h0M464.6 212.1h0M465.9 212.4h0M467.2 212.5h0M473.3 212.9h0M474.3 211.9h0M475.7 212.6h0M478.6 212.1h0M479.9 212.9h0M482.7 212.3h0M483.1 212.2h0M485.6 212.8h0M486.5 213.0h0M449.5 213.4h0M452.7 213.3h0M453.1 213.5h0M455.5 213.5h0M455.9 213.9h0M458.4 214.3h0M463.6 213.9h0M467.6 213.6h0M471.4 213.8h0M473.0 213.9h0M473.9 214.7h0M476.2 214.7h0M479.6 214.6h0M482.6 214.3h0M484.6 213.7h0M486.0 214.2h0M487.7 214.3h0M447.9 215.2h0M450.6 215.1h0M451.9 214.8h0M454.5 215.0h0M456.0 216.2h0M458.5 215.9h0M461.6 216.0h0M462.7 215.5h0M466.6 214.9h0M470.8 215.7h0M474.4 215.4h0M477.8 215.9h0M479.7 215.1h0M480.2 215.6h0M481.9 215.4h0M483.0 215.0h0M484.8 216.1h0M487.4 215.5h0M489.2 216.2h0M450.9 217.7h0M454.1 216.6h0M455.8 217.5h0M459.7 217.0h0M461.6 217.6h0M461.8 217.0h0M465.1 216.3h0M466.7 216.6h0M468.2 216.3h0M470.6 217.6h0M471.1 217.3h0M475.1 217.0h0M477.2 216.8h0M481.5 217.6h0M482.9 217.0h0M487.6 216.9h0M489.6 216.6h0M452.7 219.2h0M454.3 218.7h0M456.2 218.0h0M458.0 218.5h0M460.0 217.8h0M460.5 218.9h0M462.0 218.6h0M463.8 218.9h0M465.6 217.8h0M470.2 218.6h0M472.0 218.8h0M475.1 219.0h0M477.1 218.3h0M478.8 219.0h0M482.0 218.3h0M487.0 217.9h0M488.2 218.8h0M489.2 217.9h0M452.2 219.3h0M463.0 219.9h0M466.0 219.4h0M466.6 219.9h0M473.6 219.3h0M475.3 219.5h0M483.4 219.8h0M458.2 220.7h0M461.6 220.1h0M465.7 220.1h0M469.6 220.3h0M474.8 220.1h0M477.6 220.2h0M478.8 220.4h0M481.3 220.6h0M490.0 220.5h0M453.6 221.8h0M455.4 221.1h0M456.5 221.9h0M464.0 220.9h0M465.1 221.8h0M470.7 222.0h0M471.6 221.9h0M476.3 221.0h0M479.2 222.2h0M481.7 221.7h0M484.8 221.4h0M485.8 221.5h0M489.6 220.9h0M455.0 223.5h0M457.2 222.4h0M459.4 222.5h0M460.7 223.0h0M462.8 223.5h0M463.9 223.7h0M469.1 223.4h0M473.6 223.7h0M480.6 222.6h0M482.2 223.1h0M486.9 223.4h0M457.5 224.0h0M460.1 223.9h0M461.6 224.0h0M470.7 224.6h0M471.1 225.2h0M473.4 224.3h0M478.0 224.2h0M478.5 224.6h0M486.0 225.1h0M488.6 223.8h0M458.5 226.3h0M461.2 226.5h0M462.8 225.4h0M464.1 225.9h0M467.9 225.3h0M469.6 225.3h0M472.8 226.1h0M476.6 226.7h0M478.2 226.7h0M479.7 226.0h0M482.7 225.3h0M489.7 226.1h0M458.4 227.1h0M459.5 226.9h0M469.8 227.6h0M478.7 227.5h0M480.7 227.4h0M481.7 226.8h0M484.7 226.9h0M486.7 228.2h0M489.8 228.0h0M460.7 229.0h0M469.7 229.7h0M471.8 228.6h0M477.4 229.0h0M480.2 229.1h0M485.3 228.8h0M461.7 230.4h0M463.7 231.2h0M464.8 230.8h0M466.8 230.1h0M469.7 230.1h0M471.2 230.6h0M477.7 230.6h0M481.5 230.9h0M482.8 230.7h0M484.5 231.1h0M486.9 230.2h0M489.0 230.4h0M466.9 231.8h0M470.7 232.2h0M473.7 231.5h0M473.9 232.7h0M475.5 232.0h0M478.6 232.7h0M481.1 231.8h0M481.5 232.6h0M483.5 232.6h0M487.9 232.6h0M488.8 232.5h0M467.1 233.4h0M469.2 233.6h0M469.7 233.4h0M472.4 234.0h0M476.1 233.5h0M478.2 233.9h0M470.0 235.5h0M473.9 235.2h0M478.1 234.8h0M479.7 234.9h0M483.4 235.4h0M486.6 234.5h0M488.2 234.3h0M469.2 236.2h0M470.4 235.9h0M474.3 236.1h0M476.9 236.9h0M480.9 237.2h0M485.2 236.4h0M486.8 236.0h0M472.0 238.4h0M476.2 237.9h0M477.2 238.6h0M478.4 237.7h0M480.8 238.2h0M482.7 238.7h0M476.4 239.5h0M477.5 240.1h0M478.5 240.2h0M481.6 240.1h0M483.1 239.1h0M475.7 240.4h0M492.7 193.7h0M496.4 193.0h0M497.3 193.7h0M499.3 193.3h0M501.0 193.2h0M501.5 193.1h0M505.4 193.1h0M491.4 194.7h0M493.7 193.8h0M494.5 193.8h0M497.3 194.3h0M498.6 194.5h0M499.8 194.8h0M501.5 194.1h0M503.0 194.8h0M505.7 193.8h0M506.8 195.0h0M490.1 195.3h0M493.7 195.9h0M494.3 195.5h0M501.4 196.1h0M503.1 196.2h0M504.7 195.8h0M506.0 196.4h0M507.8 195.9h0M490.7 198.1h0M492.3 197.2h0M496.2 197.8h0M497.7 196.8h0M500.8 197.1h0M502.1 196.8h0M503.2 197.8h0M505.7 197.5h0M506.0 197.1h0M490.4 198.3h0M491.0 199.4h0M493.4 199.5h0M494.6 198.9h0M495.9 199.6h0M496.9 199.1h0M500.0 198.6h0M501.8 199.2h0M503.1 199.6h0M504.7 199.6h0M506.8 198.6h0M508.3 198.7h0M490.0 200.5h0M492.8 199.8h0M494.1 199.9h0M495.8 200.1h0M498.2 199.9h0M498.8 201.0h0M500.9 200.2h0M501.4 199.9h0M503.8 200.8h0M506.7 200.1h0M493.1 202.7h0M493.9 201.8h0M496.3 201.5h0M496.8 202.7h0M499.3 202.3h0M499.8 201.6h0M502.4 201.5h0M503.1 201.9h0M504.8 202.7h0M505.9 202.4h0M490.7 203.3h0M491.3 204.1h0M492.3 202.9h0M493.8 202.9h0M495.5 204.1h0M497.2 203.5h0M499.3 204.0h0M501.1 204.0h0M502.6 203.7h0M504.0 204.0h0M506.0 203.8h0M492.5 205.7h0M495.8 204.9h0M498.5 204.8h0M500.1 204.8h0M502.6 204.3h0M505.7 205.7h0M490.3 207.0h0M490.8 206.1h0M493.2 206.2h0M494.9 206.4h0M496.3 207.2h0M498.7 207.0h0M502.0 206.7h0M502.8 206.5h0M504.9 206.5h0M508.5 206.9h0M493.4 207.4h0M495.6 207.7h0M498.1 208.5h0M501.0 208.7h0M501.3 208.3h0M502.8 207.7h0M505.3 208.2h0M507.9 207.4h0M491.0 208.9h0M493.1 209.2h0M494.2 208.9h0M495.6 210.1h0M498.0 209.6h0M498.4 210.1h0M500.7 209.1h0M503.9 209.0h0M505.5 209.9h0M506.2 209.9h0M490.1 211.1h0M491.3 211.2h0M493.1 210.5h0M494.0 210.9h0M496.4 210.7h0M498.1 211.0h0M499.6 210.7h0M501.0 211.3h0M506.3 211.3h0M491.0 212.5h0M492.9 213.1h0M495.2 212.1h0M495.5 212.5h0M503.6 212.2h0M505.3 212.9h0M505.8 212.2h0M507.8 212.0h0M491.6 213.4h0M493.3 214.1h0M494.0 213.4h0M496.5 213.4h0M497.3 214.0h0M500.1 213.4h0M502.8 214.1h0M505.6 214.1h0M506.5 214.7h0M507.3 213.5h0M491.1 214.8h0M492.7 215.6h0M494.2 215.3h0M499.0 215.9h0M499.9 215.9h0M502.2 215.3h0M503.2 216.1h0M505.8 215.9h0M490.6 216.8h0M491.9 217.7h0M492.6 216.6h0M495.9 217.2h0M498.9 217.3h0M502.3 217.7h0M504.8 216.4h0M506.9 217.4h0M507.9 217.5h0M490.6 218.8h0M492.1 218.8h0M492.4 217.8h0M494.1 218.2h0M495.5 218.3h0M497.0 218.1h0M499.1 219.0h0M501.1 218.6h0M501.9 218.7h0M505.5 218.9h0M507.2 218.5h0M490.1 219.3h0M491.1 220.1h0M493.0 219.6h0M494.2 220.1h0M496.0 220.2h0M498.0 220.2h0M498.9 220.4h0M500.7 220.2h0M506.2 220.2h0M508.2 219.8h0M490.5 221.9h0M491.0 222.2h0M493.5 221.4h0M495.5 221.7h0M497.9 222.2h0M498.5 222.0h0M500.2 220.9h0M503.3 220.9h0M504.3 222.1h0M507.4 221.0h0M493.7 223.2h0M494.5 223.5h0M496.9 222.5h0M499.2 222.9h0M500.2 223.0h0M502.7 223.5h0M504.6 223.0h0M506.7 222.9h0M491.0 225.2h0M492.3 224.3h0M493.9 223.8h0M496.1 223.8h0M498.0 223.8h0M499.1 223.9h0M500.9 225.1h0M501.9 223.8h0M503.0 224.7h0M505.1 225.2h0M505.8 224.4h0M507.3 224.0h0M490.7 225.6h0M492.1 225.8h0M495.3 225.3h0M497.8 225.5h0M501.0 226.7h0M504.0 225.5h0M504.5 226.1h0M507.2 226.7h0M491.2 227.4h0M492.7 228.2h0M494.5 227.6h0M497.9 227.1h0M499.1 227.0h0M499.9 228.2h0M504.5 228.0h0M507.2 227.7h0M507.5 227.8h0M491.4 228.7h0M493.0 229.3h0M495.7 228.5h0M497.4 229.3h0M499.1 229.4h0M501.0 229.0h0M503.6 228.4h0M504.9 229.2h0M506.8 229.5h0M508.1 229.2h0M491.6 230.0h0M492.9 231.2h0M494.6 231.1h0M496.7 230.3h0M498.2 230.4h0M503.9 231.1h0M506.9 231.2h0M493.4 231.4h0M493.9 231.3h0M500.9 231.6h0M506.3 232.0h0M528.5 176.5h0M532.6 176.5h0M535.1 176.7h0M538.6 176.7h0M510.6 177.1h0M510.8 177.9h0M516.7 176.9h0M517.6 177.9h0M521.1 177.6h0M523.9 176.9h0M525.2 178.1h0M526.7 177.9h0M528.5 177.6h0M529.0 177.5h0M533.4 177.5h0M536.0 177.7h0M508.5 178.9h0M509.5 179.6h0M514.8 178.3h0M516.0 178.5h0M519.4 178.7h0M520.5 179.4h0M525.2 178.9h0M527.5 178.3h0M532.8 178.5h0M533.8 179.2h0M535.8 178.3h0M539.1 178.4h0M539.3 178.6h0M509.1 181.2h0M509.3 179.9h0M512.9 180.2h0M518.8 180.6h0M522.4 180.9h0M523.3 180.7h0M525.4 180.5h0M527.0 179.9h0M530.1 180.0h0M530.6 180.1h0M532.0 181.0h0M536.1 180.6h0M536.9 180.4h0M538.6 180.9h0M539.3 179.9h0M509.0 181.3h0M517.9 182.3h0M519.8 181.7h0M521.9 181.7h0M523.5 181.4h0M524.7 181.4h0M526.8 181.4h0M528.2 182.6h0M529.9 182.6h0M530.3 182.5h0M532.5 181.7h0M535.1 181.4h0M537.5 181.9h0M539.1 182.5h0M539.4 182.1h0M509.0 183.1h0M511.6 183.7h0M512.7 182.8h0M514.4 182.8h0M516.6 182.9h0M517.4 183.8h0M522.7 183.4h0M523.5 183.7h0M524.4 183.5h0M525.8 183.8h0M528.9 183.1h0M531.1 183.4h0M532.0 184.1h0M534.0 184.1h0M535.4 183.7h0M538.9 183.9h0M510.1 184.6h0M513.1 184.3h0M514.9 185.4h0M515.9 185.3h0M517.4 184.7h0M518.3 185.6h0M520.0 185.7h0M521.4 184.6h0M522.9 184.3h0M524.3 184.6h0M526.0 185.0h0M528.0 185.0h0M529.7 185.7h0M531.7 185.0h0M532.3 184.9h0M535.9 184.4h0M536.9 184.6h0M538.1 185.1h0M510.9 187.0h0M512.9 186.5h0M516.4 186.4h0M519.2 187.0h0M521.2 185.8h0M523.8 186.2h0M524.4 186.5h0M526.9 187.2h0M532.0 186.3h0M533.8 186.9h0M536.9 186.3h0M538.6 186.9h0M509.0 187.8h0M510.0 188.7h0M512.9 188.2h0M514.6 188.0h0M515.6 187.5h0M517.5 187.8h0M520.2 188.5h0M523.4 188.0h0M524.5 188.6h0M528.5 187.8h0M530.5 187.5h0M533.1 187.7h0M533.4 188.1h0M508.7 189.3h0M510.4 189.2h0M515.4 189.7h0M517.8 189.1h0M518.5 190.0h0M522.3 189.9h0M523.4 190.0h0M524.8 189.2h0M525.8 188.9h0M530.1 189.1h0M532.4 190.0h0M534.9 189.8h0M538.8 189.2h0M510.2 191.3h0M513.1 191.1h0M515.3 190.6h0M519.2 191.4h0M520.4 191.3h0M523.7 191.5h0M529.6 191.1h0M531.7 190.3h0M534.3 191.1h0M536.1 190.6h0M538.5 190.6h0M509.0 193.0h0M510.2 191.8h0M511.8 193.1h0M512.7 192.1h0M515.6 192.8h0M518.2 192.0h0M518.7 192.2h0M521.1 192.7h0M522.1 192.0h0M523.3 192.0h0M525.3 192.7h0M526.0 192.9h0M528.2 193.0h0M531.0 192.7h0M534.7 192.5h0M535.4 192.2h0M539.4 191.8h0M509.6 194.5h0M512.0 193.6h0M513.7 193.4h0M514.0 194.4h0M523.9 193.4h0M525.3 193.7h0M529.0 193.5h0M530.6 194.6h0M533.3 194.5h0M536.2 193.8h0M538.0 193.6h0M509.7 195.4h0M511.9 195.1h0M515.8 195.3h0M518.0 195.8h0M518.5 195.9h0M521.3 195.0h0M524.8 196.1h0M526.6 196.2h0M529.1 195.9h0M533.0 195.4h0M535.7 195.2h0M511.5 197.0h0M513.0 197.3h0M514.7 197.2h0M516.2 197.0h0M518.0 197.2h0M519.5 196.5h0M521.5 197.5h0M524.1 197.2h0M525.4 196.4h0M526.2 196.5h0M528.6 197.2h0M529.0 196.7h0M532.0 196.6h0M536.3 196.6h0M510.4 197.9h0M513.1 197.9h0M515.7 199.0h0M521.1 199.2h0M522.4 197.9h0M524.2 198.1h0M528.2 198.9h0M531.3 198.1h0M531.9 198.3h0M535.6 198.5h0M536.6 199.1h0M538.6 198.8h0M509.0 200.6h0M510.5 199.6h0M512.7 199.8h0M515.0 199.9h0M515.4 200.0h0M519.8 199.7h0M522.7 200.5h0M522.8 199.5h0M525.1 200.7h0M526.1 200.3h0M527.6 199.9h0M530.6 200.4h0M532.5 199.7h0M536.6 199.3h0M509.7 201.3h0M512.0 201.6h0M513.4 201.1h0M515.2 200.8h0M517.5 201.7h0M518.6 201.7h0M519.8 201.7h0M526.4 201.1h0M532.6 201.6h0M534.6 200.8h0M510.5 203.2h0M512.6 202.7h0M517.6 203.1h0M520.7 202.4h0M521.3 203.6h0M523.6 202.8h0M527.5 202.6h0M529.8 203.5h0M531.4 203.0h0M532.2 203.1h0M534.6 202.8h0M536.0 203.2h0M539.0 203.0h0M509.2 205.1h0M511.7 204.7h0M514.5 204.1h0M515.8 204.2h0M517.7 203.8h0M519.0 205.2h0M521.2 204.6h0M523.6 204.2h0M531.0 204.3h0M537.5 204.1h0M539.0 203.8h0M509.7 205.9h0M511.8 206.1h0M512.4 206.0h0M513.8 206.4h0M516.5 206.1h0M520.8 206.4h0M521.9 205.8h0M524.5 206.7h0M527.7 206.6h0M530.7 206.4h0M533.2 205.9h0M534.9 206.1h0M538.9 206.6h0M509.4 207.0h0M513.4 207.3h0M514.8 206.9h0M516.0 207.0h0M517.3 207.6h0M519.3 207.8h0M520.5 207.9h0M524.1 207.5h0M525.0 207.1h0M525.9 208.2h0M527.3 208.1h0M528.8 208.1h0M533.3 207.7h0M538.5 207.0h0M539.5 206.9h0M513.6 208.9h0M517.8 208.6h0M521.5 208.4h0M523.2 209.0h0M526.5 209.0h0M528.0 208.7h0M530.0 208.3h0M531.1 209.7h0M532.7 208.9h0M533.5 208.9h0M535.1 208.8h0M538.2 208.4h0M509.8 210.1h0M512.5 210.2h0M515.0 211.0h0M515.5 209.9h0M516.8 211.0h0M519.4 209.9h0M521.9 210.4h0M525.6 210.0h0M529.2 210.9h0M533.1 211.2h0M533.8 210.1h0M537.9 211.1h0M508.7 212.4h0M510.8 212.0h0M513.6 211.4h0M519.3 212.4h0M521.0 212.7h0M524.9 212.0h0M526.5 211.8h0M529.4 212.3h0M533.1 211.5h0M534.3 211.3h0M535.5 211.6h0M538.1 211.8h0M513.1 213.3h0M513.8 213.3h0M516.4 213.9h0M517.7 213.2h0M520.7 214.2h0M523.9 213.5h0M524.6 213.4h0M526.9 213.0h0M527.3 212.9h0M528.9 212.8h0M530.7 213.2h0M532.4 213.6h0M534.9 213.1h0M536.5 213.7h0M508.5 214.4h0M509.8 214.5h0M511.3 214.9h0M513.9 215.6h0M516.2 215.5h0M520.5 214.5h0M521.6 215.5h0M523.3 214.5h0M525.2 215.3h0M531.2 214.3h0M534.2 215.7h0M536.0 215.5h0M538.6 215.5h0M510.4 215.8h0M512.0 216.9h0M513.0 215.8h0M515.7 216.5h0M517.6 217.1h0M519.4 216.3h0M520.2 216.6h0M525.0 216.9h0M528.9 216.2h0M531.7 216.5h0M532.3 217.0h0M533.8 216.1h0M535.4 216.5h0M536.6 216.9h0M539.1 216.7h0M539.4 216.1h0M509.4 217.6h0M513.9 217.3h0M515.9 217.5h0M517.9 217.4h0M519.0 217.4h0M519.9 217.6h0M522.0 217.7h0M523.7 218.4h0M525.4 218.0h0M526.3 217.3h0M528.6 217.9h0M529.4 218.2h0M530.5 218.2h0M534.0 218.1h0M535.0 218.1h0M536.8 218.0h0M538.3 217.6h0M539.4 217.9h0M508.8 219.0h0M510.7 219.3h0M514.1 219.6h0M516.1 219.8h0M518.8 218.8h0M519.9 220.2h0M522.7 219.8h0M523.0 220.2h0M526.3 218.8h0M528.3 219.0h0M530.1 220.1h0M531.7 218.9h0M535.4 219.7h0M536.8 219.1h0M538.3 220.2h0M510.6 221.6h0M511.1 221.4h0M512.9 221.3h0M513.8 221.1h0M518.9 221.6h0M522.2 220.3h0M522.9 221.1h0M526.8 220.4h0M527.4 221.4h0M530.6 220.6h0M536.1 221.6h0M539.1 220.4h0M509.0 222.5h0M509.9 223.1h0M511.8 223.1h0M514.2 222.6h0M516.3 222.3h0M518.2 222.0h0M520.2 223.0h0M521.8 221.8h0M523.2 222.0h0M526.5 221.8h0M530.6 222.7h0M538.3 222.7h0M510.2 223.7h0M510.9 223.4h0M514.6 224.7h0M515.4 223.7h0M517.5 224.7h0M526.8 224.2h0M527.3 224.7h0M529.0 223.9h0M530.8 223.5h0M532.1 223.9h0M536.1 224.3h0M538.6 224.6h0M509.5 225.6h0M512.2 226.2h0M514.5 225.2h0M517.2 224.8h0M518.6 225.5h0M522.6 225.7h0M525.1 225.7h0M527.7 226.1h0M531.4 224.8h0M531.8 226.0h0M534.9 225.1h0M536.3 225.3h0M538.7 226.0h0M510.0 226.6h0M511.3 227.6h0M513.6 226.5h0M516.3 226.7h0M525.2 227.2h0M526.9 226.3h0M530.1 226.8h0M531.1 227.0h0M534.4 227.6h0M509.5 228.2h0M512.1 228.5h0M513.1 228.2h0M518.7 228.6h0M520.7 227.8h0M521.9 229.2h0M523.8 228.0h0M524.8 228.5h0M526.9 228.1h0M529.8 228.6h0M530.3 227.8h0M533.7 229.0h0M534.9 227.8h0M537.0 229.1h0M511.0 230.2h0M513.4 230.0h0M514.8 229.5h0M516.2 229.9h0M518.0 230.0h0M519.9 230.5h0M522.8 230.1h0M526.6 229.8h0M532.1 230.1h0M538.5 229.9h0M510.2 231.2h0M510.9 231.3h0M514.6 231.5h0M515.6 231.4h0M521.9 231.9h0M523.0 231.5h0M526.2 231.2h0M527.8 231.1h0M529.0 231.9h0M530.5 231.6h0M533.1 232.2h0M533.5 231.7h0M535.7 231.0h0M536.5 231.6h0M538.1 232.2h0M486.9 233.6h0M489.9 233.6h0M493.9 232.4h0M494.7 233.3h0M497.5 232.9h0M499.1 233.4h0M502.1 233.1h0M504.2 233.0h0M505.5 233.5h0M506.9 233.1h0M508.1 233.1h0M512.4 232.7h0M521.1 233.0h0M522.7 232.8h0M525.1 233.6h0M526.3 232.9h0M528.7 233.0h0M532.7 233.6h0M533.6 233.4h0M537.5 233.6h0M539.0 233.1h0M494.5 235.0h0M496.1 234.3h0M498.3 234.5h0M500.5 234.0h0M504.7 234.5h0M505.2 234.9h0M506.7 234.1h0M509.2 234.4h0M509.3 234.5h0M512.0 234.6h0M513.4 233.8h0M514.7 233.8h0M517.6 234.2h0M524.0 235.1h0M526.8 234.9h0M528.2 234.8h0M529.3 235.0h0M531.4 234.4h0M536.1 234.8h0M536.5 234.5h0M538.7 234.7h0M486.0 236.5h0M488.3 235.7h0M490.1 236.1h0M492.9 235.9h0M495.3 236.2h0M502.2 236.3h0M506.8 236.2h0M509.8 236.0h0M511.9 235.7h0M513.3 235.3h0M514.5 235.9h0M516.4 236.6h0M517.3 236.2h0M519.6 235.3h0M522.5 236.6h0M523.8 236.1h0M525.9 236.3h0M528.6 236.4h0M529.3 236.5h0M532.7 236.7h0M535.7 235.4h0M483.9 238.0h0M486.5 236.8h0M488.6 237.3h0M491.1 237.1h0M491.7 238.1h0M495.1 237.5h0M497.0 238.0h0M502.5 238.0h0M504.1 236.9h0M506.1 237.6h0M510.1 237.7h0M513.0 237.6h0M514.9 238.2h0M518.2 237.8h0M519.4 237.1h0M521.0 237.5h0M523.5 237.5h0M527.1 237.2h0M528.7 237.1h0M529.9 237.1h0M530.3 236.8h0M534.1 236.8h0M535.1 236.9h0M536.6 237.8h0M483.6 239.6h0M486.0 239.4h0M493.5 239.1h0M497.1 238.6h0M497.5 239.1h0M500.1 239.1h0M500.5 238.3h0M502.0 238.4h0M503.3 239.5h0M505.8 238.6h0M506.3 239.1h0M509.2 238.5h0M509.7 239.3h0M511.2 239.6h0M515.2 238.4h0M515.4 238.5h0M518.1 239.5h0M518.3 239.1h0M520.5 238.9h0M521.5 239.3h0M523.1 238.7h0M526.9 238.7h0M528.3 239.7h0M531.2 239.6h0M533.0 239.3h0M534.5 239.3h0M535.1 238.4h0M536.4 238.4h0M484.3 240.2h0M486.6 241.0h0M488.0 240.5h0M493.1 240.0h0M497.8 240.5h0M501.0 240.7h0M503.1 240.6h0M503.5 240.3h0M506.4 240.9h0M508.2 240.1h0M509.9 239.9h0M510.8 240.6h0M517.2 241.1h0M521.2 241.2h0M521.9 240.0h0M525.6 240.1h0M528.8 240.6h0M531.6 241.0h0M533.0 240.1h0M534.6 240.8h0M536.4 240.2h0M486.5 242.1h0M492.7 242.2h0M492.8 242.1h0M495.3 242.4h0M498.4 242.3h0M500.2 241.3h0M501.0 242.1h0M504.8 241.7h0M508.3 241.4h0M509.6 241.5h0M514.5 241.3h0M516.6 242.7h0M517.7 242.5h0M519.6 241.7h0M521.2 241.9h0M523.1 242.5h0M525.7 242.5h0M528.1 241.9h0M529.5 242.0h0M531.3 242.2h0M535.2 241.7h0M489.1 244.1h0M492.6 243.8h0M494.6 243.2h0M499.9 243.4h0M502.0 243.9h0M504.1 243.3h0M505.6 243.3h0M507.0 243.5h0M510.5 243.4h0M511.6 242.8h0M513.2 243.1h0M514.7 243.4h0M520.3 243.6h0M524.2 243.7h0M526.1 244.1h0M529.7 243.8h0M530.9 243.2h0M534.4 243.6h0M537.4 243.8h0M490.8 244.9h0M494.1 245.0h0M495.0 244.9h0M497.7 244.8h0M499.7 244.8h0M503.3 245.7h0M505.8 244.3h0M506.3 245.6h0M508.2 244.7h0M509.9 245.3h0M513.0 245.1h0M515.0 245.2h0M516.0 245.3h0M517.2 245.3h0M519.4 244.5h0M524.1 245.3h0M525.0 244.5h0M526.4 245.6h0M529.8 245.6h0M532.1 244.4h0M533.6 245.0h0M535.4 245.5h0M536.9 245.0h0M492.3 246.1h0M493.4 246.6h0M494.8 246.4h0M496.9 246.5h0M497.6 246.5h0M499.6 246.0h0M501.4 245.8h0M504.1 246.3h0M506.0 246.3h0M507.2 246.9h0M510.1 246.0h0M513.3 247.2h0M514.6 246.9h0M516.2 245.8h0M519.3 246.4h0M520.5 246.1h0M523.3 247.1h0M527.3 245.8h0M529.6 246.4h0M530.5 246.8h0M532.0 246.4h0M533.7 246.5h0M494.4 248.5h0M496.6 248.4h0M499.0 248.2h0M501.6 247.8h0M502.2 248.5h0M506.9 247.5h0M511.3 248.4h0M513.1 248.3h0M515.1 247.6h0M516.2 247.3h0M517.2 247.4h0M518.5 247.4h0M520.3 247.9h0M521.4 248.2h0M523.7 247.9h0M525.0 248.6h0M526.0 248.4h0M528.3 247.9h0M529.8 247.6h0M530.7 247.4h0M532.0 247.5h0M534.4 248.2h0M535.7 248.6h0M536.3 247.9h0M494.9 249.0h0M495.9 249.7h0M498.8 250.1h0M500.5 248.8h0M503.2 249.2h0M503.7 249.4h0M504.8 249.9h0M507.6 249.4h0M509.2 249.0h0M509.6 249.0h0M512.6 249.5h0M514.3 249.9h0M516.9 249.3h0M518.6 250.1h0M523.7 249.1h0M525.4 249.5h0M529.5 249.4h0M533.3 250.2h0M535.7 250.0h0M498.6 251.1h0M502.4 250.7h0M504.1 251.0h0M506.3 251.3h0M509.8 250.7h0M513.6 251.7h0M514.4 251.1h0M516.6 250.6h0M519.4 251.3h0M522.7 250.3h0M523.4 251.2h0M525.2 250.9h0M527.1 250.8h0M528.3 250.5h0M530.9 250.5h0M532.7 250.3h0M500.2 252.4h0M501.3 252.7h0M503.4 252.9h0M510.2 252.0h0M510.8 252.2h0M512.7 252.8h0M513.9 251.9h0M515.6 251.9h0M517.3 252.5h0M519.7 253.0h0M520.2 253.1h0M521.3 251.8h0M523.0 252.7h0M525.5 251.8h0M527.1 252.4h0M529.8 251.9h0M531.3 252.1h0M533.9 252.9h0M511.9 253.5h0M513.2 253.9h0M515.3 253.4h0M518.0 254.0h0M519.2 253.8h0M520.8 253.5h0M523.2 253.8h0M525.7 254.6h0M528.4 253.9h0M529.0 253.9h0M533.7 254.6h0M517.3 255.6h0M519.7 255.1h0M525.1 254.8h0M526.9 256.2h0M528.2 256.0h0M529.6 255.7h0M532.5 254.9h0M534.4 256.1h0M522.3 256.5h0M525.0 256.9h0M528.3 257.3h0M530.4 257.2h0M532.5 256.5h0M533.5 256.5h0M525.6 258.8h0M528.7 257.9h0M532.3 259.1h0M443.0 210.3h0M442.4 213.3h0M444.5 213.7h0M443.2 214.6h0M446.1 214.3h0M443.8 217.8h0M446.6 221.3h0M449.2 221.6h0M451.3 222.7h0M448.8 224.5h0M452.0 224.3h0M447.0 225.5h0M454.4 224.8h0M447.9 226.4h0M450.9 227.4h0M452.3 228.5h0M457.4 230.7h0M451.1 232.1h0M452.8 232.1h0M458.2 231.6h0M462.2 232.2h0M454.9 232.9h0M457.6 232.7h0M453.7 233.8h0M463.9 234.6h0M459.8 236.0h0M460.3 236.3h0M462.5 239.3h0M465.6 239.5h0M466.3 240.2h0M461.9 241.7h0" stroke="#1f77b4" stroke-width="1.7" stroke-linecap="round" fill="none"/><path d="M419.7,173.0 539.2,173.0 539.2,177.0 509.0,177.0 508.5,195.0 492.0,193.5 470.0,192.5 462.0,192.0 455.0,187.5 443.0,186.8 440.0,193.5 437.0,196.0 435.5,190.0 434.0,184.0 433.0,178.0 431.0,174.8 428.7,183.0 428.0,190.0 426.5,195.0 424.5,195.0 422.5,185.0 421.2,178.0 419.7,175.0Z" fill="#1f77b4"/><path d="M457.6 177.2h0M435.4 179.1h0M450.8 178.1h0M475.5 179.1h0M477.3 177.8h0M449.6 180.1h0M448.5 182.1h0M460.1 181.8h0M461.7 180.9h0M504.9 181.8h0M451.2 183.1h0M500.0 183.6h0M507.4 182.5h0M436.3 184.9h0M440.3 184.1h0M443.2 184.1h0M449.9 184.1h0M460.0 184.1h0M482.0 186.6h0M493.2 185.3h0M502.1 186.5h0M479.3 188.2h0M491.5 187.7h0M493.6 188.0h0M476.4 188.8h0M503.9 191.0h0M444.7 180.7h0M450.9 182.1h0M444.8 182.6h0M449.8 183.8h0M447.6 185.7h0M449.9 185.6h0" stroke="#fff" stroke-width="1.3" stroke-linecap="round" fill="none"/><path d="M481.9 186.5v2.0M497.4 186.7v2.0M437.2 187.1v2.0M474.8 188.2v2.0M506.5 188.2v2.0M441.6 189.4v2.0M454.8 188.7v2.0M456.5 188.7v2.0M467.5 189.8v2.0M478.0 189.0v2.0M480.3 189.4v2.0M487.4 189.7v2.0M497.0 189.9v2.0M506.4 188.5v2.0M444.4 190.4v2.0M458.6 190.4v2.0M440.9 192.5v2.0M454.3 192.1v2.0M487.3 192.6v2.0M458.7 193.9v2.0M495.6 194.0v2.0" stroke="#fff" stroke-width="1.0" fill="none"/><path d="M444.0 220.0h0M460.8 243.0h0M457.3 247.5h0M456.4 251.0h0M458.2 254.0h0M462.6 257.2h0M468.8 260.7h0M465.3 238.6h0M485.3 251.0h0M489.7 259.8h0M492.0 255.0h0M425.0 198.0h0M426.0 201.0h0M437.0 205.0h0" stroke="#1f77b4" stroke-width="1.7" stroke-linecap="round" fill="none"/><line x1="420.2" y1="166.3" x2="539.2" y2="203.4" stroke="#107a10" stroke-width="0.6"/>
<path d="M414.5,265.1V161.6" stroke="#d4d4d4" stroke-width="0.9" fill="none"/>
<path d="M414.5,265.1H546.4V161.6" stroke="#c4c4c4" stroke-width="0.9" fill="none"/>
<path d="M414.1,161.6H546.8" stroke="#858585" stroke-width="0.9" fill="none"/>
<text x="480.4" y="160.0" font-size="7.35" text-anchor="middle">R=-0.41</text>
<text transform="translate(428.7,272.7) scale(0.925,1)" font-size="6.85" text-anchor="middle">1750</text>
<line x1="428.7" y1="265.1" x2="428.7" y2="266.5" stroke="#888" stroke-width="0.6"/>
<text transform="translate(446.7,272.7) scale(0.925,1)" font-size="6.85" text-anchor="middle">2000</text>
<line x1="446.7" y1="265.1" x2="446.7" y2="266.5" stroke="#888" stroke-width="0.6"/>
<text transform="translate(464.7,272.7) scale(0.925,1)" font-size="6.85" text-anchor="middle">2250</text>
<line x1="464.7" y1="265.1" x2="464.7" y2="266.5" stroke="#888" stroke-width="0.6"/>
<text transform="translate(482.7,272.7) scale(0.925,1)" font-size="6.85" text-anchor="middle">2500</text>
<line x1="482.7" y1="265.1" x2="482.7" y2="266.5" stroke="#888" stroke-width="0.6"/>
<text transform="translate(500.7,272.7) scale(0.925,1)" font-size="6.85" text-anchor="middle">2750</text>
<line x1="500.7" y1="265.1" x2="500.7" y2="266.5" stroke="#888" stroke-width="0.6"/>
<text transform="translate(518.7,272.7) scale(0.925,1)" font-size="6.85" text-anchor="middle">3000</text>
<line x1="518.7" y1="265.1" x2="518.7" y2="266.5" stroke="#888" stroke-width="0.6"/>
<text transform="translate(536.7,272.7) scale(0.925,1)" font-size="6.85" text-anchor="middle">3250</text>
<line x1="536.7" y1="265.1" x2="536.7" y2="266.5" stroke="#888" stroke-width="0.6"/>
<text x="480.4" y="280.5" font-size="7.35" text-anchor="middle">velocity of shear wave(m/s)</text>
<text x="480.4" y="288.2" font-size="7.35" text-anchor="middle">(f)</text>
<text transform="translate(413.3,176.0) scale(0.925,1)" font-size="6.85" text-anchor="end">1.0</text>
<line x1="412.9" y1="173.3" x2="414.5" y2="173.3" stroke="#888" stroke-width="0.6"/>
<text transform="translate(413.3,188.6) scale(0.925,1)" font-size="6.85" text-anchor="end">0.9</text>
<line x1="412.9" y1="185.9" x2="414.5" y2="185.9" stroke="#888" stroke-width="0.6"/>
<text transform="translate(413.3,201.2) scale(0.925,1)" font-size="6.85" text-anchor="end">0.8</text>
<line x1="412.9" y1="198.5" x2="414.5" y2="198.5" stroke="#888" stroke-width="0.6"/>
<text transform="translate(413.3,213.8) scale(0.925,1)" font-size="6.85" text-anchor="end">0.7</text>
<line x1="412.9" y1="211.1" x2="414.5" y2="211.1" stroke="#888" stroke-width="0.6"/>
<text transform="translate(413.3,226.3) scale(0.925,1)" font-size="6.85" text-anchor="end">0.6</text>
<line x1="412.9" y1="223.7" x2="414.5" y2="223.7" stroke="#888" stroke-width="0.6"/>
<text transform="translate(413.3,239.0) scale(0.925,1)" font-size="6.85" text-anchor="end">0.5</text>
<line x1="412.9" y1="236.3" x2="414.5" y2="236.3" stroke="#888" stroke-width="0.6"/>
<text transform="translate(413.3,251.6) scale(0.925,1)" font-size="6.85" text-anchor="end">0.4</text>
<line x1="412.9" y1="248.9" x2="414.5" y2="248.9" stroke="#888" stroke-width="0.6"/>
<text transform="translate(413.3,264.1) scale(0.925,1)" font-size="6.85" text-anchor="end">0.3</text>
<line x1="412.9" y1="261.5" x2="414.5" y2="261.5" stroke="#888" stroke-width="0.6"/>
<text transform="translate(400.5,213.4) rotate(-90)" font-size="7.35" text-anchor="middle">SW(%)</text>
</svg>
</body></html>
